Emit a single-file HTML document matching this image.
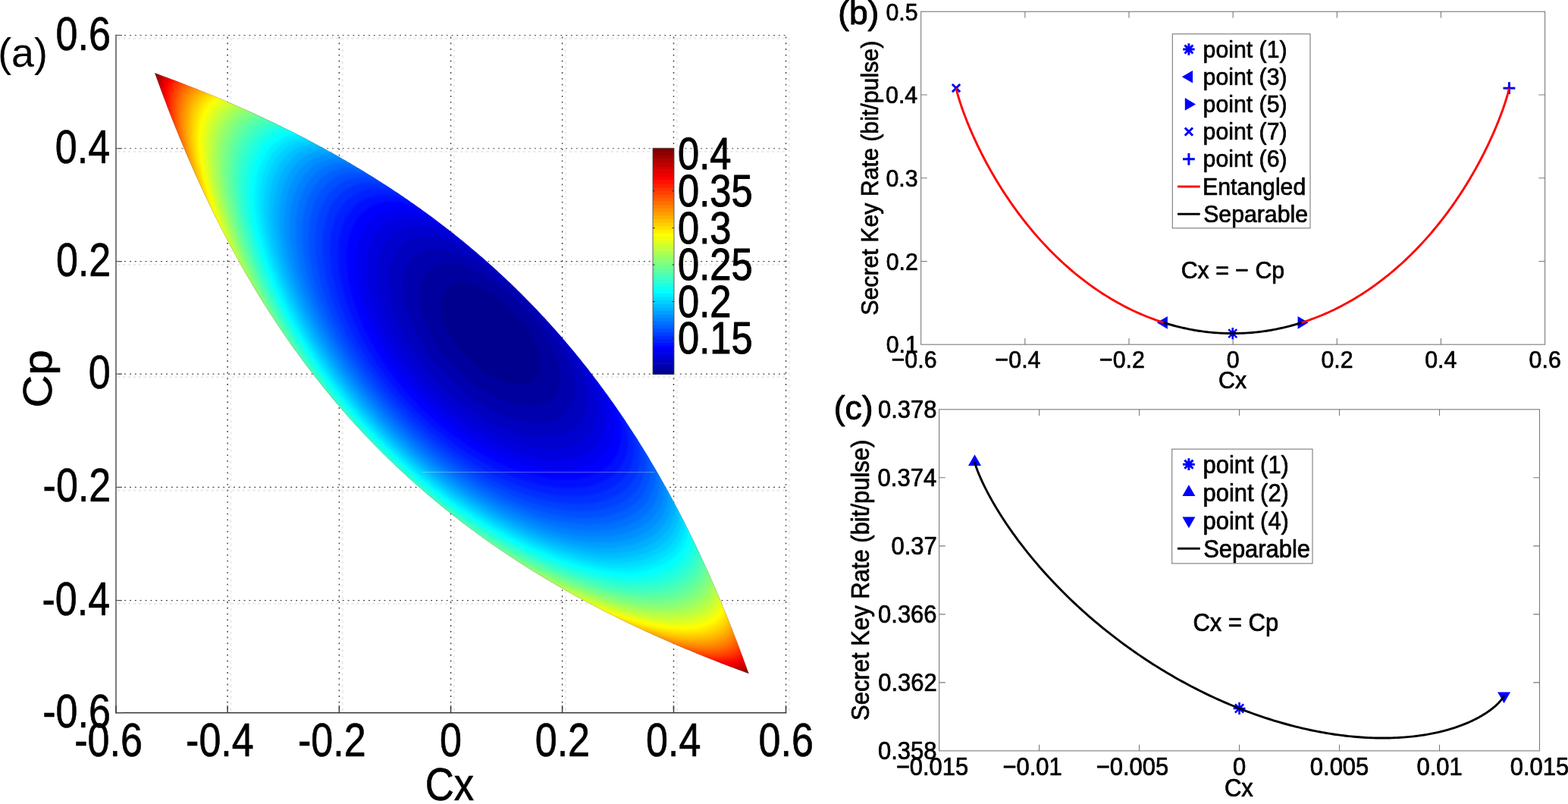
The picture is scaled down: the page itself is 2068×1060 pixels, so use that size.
<!DOCTYPE html>
<html lang="en"><head><meta charset="utf-8"><title>Secret key rate on the correlation plane</title>
<style>
html,body{margin:0;padding:0;background:#fff;}
body{width:2068px;height:1060px;overflow:hidden;}
svg{display:block;}
text{font-family:"Liberation Sans", Arial, Helvetica, sans-serif;font-kerning:none;white-space:pre;}
</style></head><body>
<svg width="2068" height="1060" viewBox="0 0 2068 1060">
<rect width="2068" height="1060" fill="#fff"/>
<line x1="304.42" y1="937.65" x2="304.42" y2="46.50" stroke="#ececec" stroke-width="2.20" stroke-dasharray="3.6 4.154" stroke-dashoffset="7.311999999999999"/>
<line x1="154.96" y1="795.80" x2="1036.54" y2="795.80" stroke="#ececec" stroke-width="2.20" stroke-dasharray="3.6 3.247" stroke-dashoffset="6.801000000000001"/>
<line x1="451.70" y1="937.65" x2="451.70" y2="46.50" stroke="#ececec" stroke-width="2.20" stroke-dasharray="3.6 4.154" stroke-dashoffset="7.311999999999999"/>
<line x1="154.96" y1="646.64" x2="1036.54" y2="646.64" stroke="#ececec" stroke-width="2.20" stroke-dasharray="3.6 3.247" stroke-dashoffset="6.801000000000001"/>
<line x1="598.84" y1="937.65" x2="598.84" y2="46.50" stroke="#ececec" stroke-width="2.20" stroke-dasharray="3.6 4.154" stroke-dashoffset="7.311999999999999"/>
<line x1="154.96" y1="497.26" x2="1036.54" y2="497.26" stroke="#ececec" stroke-width="2.20" stroke-dasharray="3.6 3.247" stroke-dashoffset="6.801000000000001"/>
<line x1="745.90" y1="937.65" x2="745.90" y2="46.50" stroke="#ececec" stroke-width="2.20" stroke-dasharray="3.6 4.154" stroke-dashoffset="7.311999999999999"/>
<line x1="154.96" y1="348.84" x2="1036.54" y2="348.84" stroke="#ececec" stroke-width="2.20" stroke-dasharray="3.6 3.247" stroke-dashoffset="6.801000000000001"/>
<line x1="892.77" y1="937.65" x2="892.77" y2="46.50" stroke="#ececec" stroke-width="2.20" stroke-dasharray="3.6 4.154" stroke-dashoffset="7.311999999999999"/>
<line x1="154.96" y1="199.93" x2="1036.54" y2="199.93" stroke="#ececec" stroke-width="2.20" stroke-dasharray="3.6 3.247" stroke-dashoffset="6.801000000000001"/>
<line x1="1040.84" y1="937.65" x2="1040.84" y2="46.50" stroke="#ececec" stroke-width="2.20" stroke-dasharray="3.6 4.154" stroke-dashoffset="7.311999999999999"/>
<line x1="154.96" y1="50.70" x2="1036.54" y2="50.70" stroke="#ececec" stroke-width="2.20" stroke-dasharray="3.6 3.247" stroke-dashoffset="6.801000000000001"/>
<line x1="300.12" y1="939.65" x2="300.12" y2="45.80" stroke="#4a4a4a" stroke-width="1.50" stroke-dasharray="1.9 5.854" stroke-dashoffset="2.558"/>
<line x1="152.96" y1="791.60" x2="1037.24" y2="791.60" stroke="#4a4a4a" stroke-width="1.20" stroke-dasharray="2.0 4.847" stroke-dashoffset="2.5540000000000003"/>
<line x1="447.40" y1="939.65" x2="447.40" y2="45.80" stroke="#4a4a4a" stroke-width="1.50" stroke-dasharray="1.9 5.854" stroke-dashoffset="2.558"/>
<line x1="152.96" y1="642.44" x2="1037.24" y2="642.44" stroke="#4a4a4a" stroke-width="1.20" stroke-dasharray="2.0 4.847" stroke-dashoffset="2.5540000000000003"/>
<line x1="594.54" y1="939.65" x2="594.54" y2="45.80" stroke="#4a4a4a" stroke-width="1.50" stroke-dasharray="1.9 5.854" stroke-dashoffset="2.558"/>
<line x1="152.96" y1="493.06" x2="1037.24" y2="493.06" stroke="#4a4a4a" stroke-width="1.20" stroke-dasharray="2.0 4.847" stroke-dashoffset="2.5540000000000003"/>
<line x1="741.60" y1="939.65" x2="741.60" y2="45.80" stroke="#4a4a4a" stroke-width="1.50" stroke-dasharray="1.9 5.854" stroke-dashoffset="2.558"/>
<line x1="152.96" y1="344.64" x2="1037.24" y2="344.64" stroke="#4a4a4a" stroke-width="1.20" stroke-dasharray="2.0 4.847" stroke-dashoffset="2.5540000000000003"/>
<line x1="888.47" y1="939.65" x2="888.47" y2="45.80" stroke="#4a4a4a" stroke-width="1.50" stroke-dasharray="1.9 5.854" stroke-dashoffset="2.558"/>
<line x1="152.96" y1="195.73" x2="1037.24" y2="195.73" stroke="#4a4a4a" stroke-width="1.20" stroke-dasharray="2.0 4.847" stroke-dashoffset="2.5540000000000003"/>
<line x1="1036.54" y1="939.65" x2="1036.54" y2="45.80" stroke="#4a4a4a" stroke-width="1.50" stroke-dasharray="1.9 5.854" stroke-dashoffset="2.558"/>
<line x1="152.96" y1="46.50" x2="1037.24" y2="46.50" stroke="#4a4a4a" stroke-width="1.20" stroke-dasharray="2.0 4.847" stroke-dashoffset="2.5540000000000003"/>
<clipPath id="lensclip"><path d="M204.2 96.3L206.2 97.1L208.2 97.8L210.1 98.5L212.1 99.2L214.1 99.9L216.0 100.7L218.0 101.4L219.9 102.1L221.9 102.9L223.9 103.6L225.8 104.4L227.8 105.1L229.8 105.8L231.7 106.6L233.7 107.3L235.6 108.1L237.6 108.9L239.6 109.6L241.5 110.4L243.5 111.1L245.5 111.9L247.4 112.7L249.4 113.4L251.4 114.2L253.3 115.0L255.3 115.8L257.2 116.5L259.2 117.3L261.2 118.1L263.1 118.9L265.1 119.7L267.1 120.5L269.0 121.3L271.0 122.1L272.9 122.9L274.9 123.7L276.9 124.5L278.8 125.3L280.8 126.1L282.8 126.9L284.7 127.8L286.7 128.6L288.6 129.4L290.6 130.2L292.6 131.1L294.5 131.9L296.5 132.7L298.5 133.6L300.4 134.4L302.4 135.3L304.3 136.1L306.3 137.0L308.3 137.8L310.2 138.7L312.2 139.5L314.2 140.4L316.1 141.3L318.1 142.1L320.0 143.0L322.0 143.9L324.0 144.8L325.9 145.6L327.9 146.5L329.9 147.4L331.8 148.3L333.8 149.2L335.7 150.1L337.7 151.0L339.7 151.9L341.6 152.8L343.6 153.7L345.6 154.6L347.5 155.5L349.5 156.5L351.4 157.4L353.4 158.3L355.4 159.2L357.3 160.2L359.3 161.1L361.3 162.0L363.2 163.0L365.2 163.9L367.1 164.9L369.1 165.8L371.1 166.8L373.0 167.8L375.0 168.7L377.0 169.7L378.9 170.7L380.9 171.6L382.8 172.6L384.8 173.6L386.8 174.6L388.7 175.6L390.7 176.6L392.7 177.6L394.6 178.6L396.6 179.6L398.6 180.6L400.5 181.6L402.5 182.6L404.4 183.6L406.4 184.7L408.4 185.7L410.3 186.7L412.3 187.8L414.3 188.8L416.2 189.9L418.2 190.9L420.1 192.0L422.1 193.0L424.1 194.1L426.0 195.1L428.0 196.2L430.0 197.3L431.9 198.4L433.9 199.5L435.8 200.5L437.8 201.6L439.8 202.7L441.7 203.8L443.7 204.9L445.7 206.0L447.6 207.1L449.6 208.3L451.5 209.4L453.5 210.5L455.5 211.6L457.4 212.8L459.4 213.9L461.4 215.1L463.3 216.2L465.3 217.4L467.2 218.5L469.2 219.7L471.2 220.9L473.1 222.0L475.1 223.2L477.1 224.4L479.0 225.6L481.0 226.8L482.9 228.0L484.9 229.2L486.9 230.4L488.8 231.6L490.8 232.8L492.8 234.0L494.7 235.3L496.7 236.5L498.6 237.7L500.6 239.0L502.6 240.2L504.5 241.5L506.5 242.7L508.5 244.0L510.4 245.3L512.4 246.5L514.3 247.8L516.3 249.1L518.3 250.4L520.2 251.7L522.2 253.0L524.2 254.3L526.1 255.6L528.1 256.9L530.1 258.3L532.0 259.6L534.0 260.9L535.9 262.3L537.9 263.6L539.9 265.0L541.8 266.4L543.8 267.7L545.8 269.1L547.7 270.5L549.7 271.9L551.6 273.3L553.6 274.6L555.6 276.1L557.5 277.5L559.5 278.9L561.5 280.3L563.4 281.7L565.4 283.2L567.3 284.6L569.3 286.1L571.3 287.5L573.2 289.0L575.2 290.5L577.2 291.9L579.1 293.4L581.1 294.9L583.0 296.4L585.0 297.9L587.0 299.4L588.9 300.9L590.9 302.5L592.9 304.0L594.8 305.5L596.8 307.1L598.7 308.6L600.7 310.2L602.7 311.8L604.6 313.3L606.6 314.9L608.6 316.5L610.5 318.1L612.5 319.7L614.4 321.3L616.4 322.9L618.4 324.6L620.3 326.2L622.3 327.9L624.3 329.5L626.2 331.2L628.2 332.8L630.1 334.5L632.1 336.2L634.1 337.9L636.0 339.6L638.0 341.3L640.0 343.0L641.9 344.8L643.9 346.5L645.8 348.3L647.8 350.0L649.8 351.8L651.7 353.5L653.7 355.3L655.7 357.1L657.6 358.9L659.6 360.7L661.5 362.5L663.5 364.4L665.5 366.2L667.4 368.1L669.4 369.9L671.4 371.8L673.3 373.6L675.3 375.5L677.3 377.4L679.2 379.3L681.2 381.2L683.1 383.2L685.1 385.1L687.1 387.1L689.0 389.0L691.0 391.0L693.0 392.9L694.9 394.9L696.9 396.9L698.8 398.9L700.8 401.0L702.8 403.0L704.7 405.0L706.7 407.1L708.7 409.1L710.6 411.2L712.6 413.3L714.5 415.4L716.5 417.5L718.5 419.6L720.4 421.8L722.4 423.9L724.4 426.1L726.3 428.2L728.3 430.4L730.2 432.6L732.2 434.8L734.2 437.0L736.1 439.3L738.1 441.5L740.1 443.7L742.0 446.0L744.0 448.3L745.9 450.6L747.9 452.9L749.9 455.2L751.8 457.6L753.8 459.9L755.8 462.3L757.7 464.6L759.7 467.0L761.6 469.4L763.6 471.8L765.6 474.3L767.5 476.7L769.5 479.2L771.5 481.7L773.4 484.1L775.4 486.6L777.3 489.2L779.3 491.7L781.3 494.3L783.2 496.8L785.2 499.4L787.2 502.0L789.1 504.6L791.1 507.2L793.0 509.9L795.0 512.5L797.0 515.2L798.9 517.9L800.9 520.6L802.9 523.4L804.8 526.1L806.8 528.9L808.8 531.6L810.7 534.4L812.7 537.3L814.6 540.1L816.6 542.9L818.6 545.8L820.5 548.7L822.5 551.6L824.5 554.5L826.4 557.5L828.4 560.4L830.3 563.4L832.3 566.4L834.3 569.5L836.2 572.5L838.2 575.6L840.2 578.6L842.1 581.8L844.1 584.9L846.0 588.0L848.0 591.2L850.0 594.4L851.9 597.6L853.9 600.8L855.9 604.1L857.8 607.4L859.8 610.7L861.7 614.0L863.7 617.3L865.7 620.7L867.6 624.1L869.6 627.5L871.6 630.9L873.5 634.4L875.5 637.9L877.4 641.4L879.4 644.9L881.4 648.5L883.3 652.1L885.3 655.7L887.3 659.4L889.2 663.0L891.2 666.7L893.1 670.4L895.1 674.2L897.1 678.0L899.0 681.8L901.0 685.6L903.0 689.5L904.9 693.4L906.9 697.3L908.8 701.2L910.8 705.2L912.8 709.2L914.7 713.3L916.7 717.3L918.7 721.4L920.6 725.6L922.6 729.7L924.5 733.9L926.5 738.2L928.5 742.4L930.4 746.7L932.4 751.0L934.4 755.4L936.3 759.8L938.3 764.2L940.2 768.7L942.2 773.2L944.2 777.8L946.1 782.3L948.1 787.0L950.1 791.6L952.0 796.3L954.0 801.0L956.0 805.8L957.9 810.6L959.9 815.5L961.8 820.4L963.8 825.3L965.8 830.3L967.7 835.3L969.7 840.4L971.7 845.5L973.6 850.6L975.6 855.8L977.5 861.0L979.5 866.3L981.5 871.7L983.4 877.0L985.4 882.5L987.4 887.9L987.4 887.9L985.4 887.2L983.4 886.5L981.5 885.8L979.5 885.0L977.5 884.3L975.6 883.6L973.6 882.9L971.7 882.1L969.7 881.4L967.7 880.6L965.8 879.9L963.8 879.2L961.8 878.4L959.9 877.7L957.9 876.9L956.0 876.2L954.0 875.4L952.0 874.7L950.1 873.9L948.1 873.1L946.1 872.4L944.2 871.6L942.2 870.8L940.2 870.0L938.3 869.3L936.3 868.5L934.4 867.7L932.4 866.9L930.4 866.1L928.5 865.4L926.5 864.6L924.5 863.8L922.6 863.0L920.6 862.2L918.7 861.4L916.7 860.6L914.7 859.8L912.8 858.9L910.8 858.1L908.8 857.3L906.9 856.5L904.9 855.7L903.0 854.9L901.0 854.0L899.0 853.2L897.1 852.4L895.1 851.5L893.1 850.7L891.2 849.8L889.2 849.0L887.3 848.2L885.3 847.3L883.3 846.4L881.4 845.6L879.4 844.7L877.4 843.9L875.5 843.0L873.5 842.1L871.6 841.3L869.6 840.4L867.6 839.5L865.7 838.6L863.7 837.7L861.7 836.9L859.8 836.0L857.8 835.1L855.9 834.2L853.9 833.3L851.9 832.4L850.0 831.5L848.0 830.6L846.0 829.6L844.1 828.7L842.1 827.8L840.2 826.9L838.2 826.0L836.2 825.0L834.3 824.1L832.3 823.2L830.3 822.2L828.4 821.3L826.4 820.3L824.5 819.4L822.5 818.4L820.5 817.5L818.6 816.5L816.6 815.5L814.6 814.6L812.7 813.6L810.7 812.6L808.8 811.6L806.8 810.6L804.8 809.7L802.9 808.7L800.9 807.7L798.9 806.7L797.0 805.7L795.0 804.7L793.0 803.7L791.1 802.6L789.1 801.6L787.2 800.6L785.2 799.6L783.2 798.6L781.3 797.5L779.3 796.5L777.3 795.4L775.4 794.4L773.4 793.4L771.5 792.3L769.5 791.2L767.5 790.2L765.6 789.1L763.6 788.0L761.6 787.0L759.7 785.9L757.7 784.8L755.8 783.7L753.8 782.6L751.8 781.5L749.9 780.4L747.9 779.3L745.9 778.2L744.0 777.1L742.0 776.0L740.1 774.9L738.1 773.7L736.1 772.6L734.2 771.5L732.2 770.3L730.2 769.2L728.3 768.0L726.3 766.9L724.4 765.7L722.4 764.6L720.4 763.4L718.5 762.2L716.5 761.1L714.5 759.9L712.6 758.7L710.6 757.5L708.7 756.3L706.7 755.1L704.7 753.9L702.8 752.7L700.8 751.5L698.8 750.2L696.9 749.0L694.9 747.8L693.0 746.5L691.0 745.3L689.0 744.0L687.1 742.8L685.1 741.5L683.1 740.3L681.2 739.0L679.2 737.7L677.3 736.4L675.3 735.1L673.3 733.9L671.4 732.6L669.4 731.3L667.4 729.9L665.5 728.6L663.5 727.3L661.5 726.0L659.6 724.7L657.6 723.3L655.7 722.0L653.7 720.6L651.7 719.3L649.8 717.9L647.8 716.5L645.8 715.2L643.9 713.8L641.9 712.4L640.0 711.0L638.0 709.6L636.0 708.2L634.1 706.8L632.1 705.4L630.1 704.0L628.2 702.5L626.2 701.1L624.3 699.6L622.3 698.2L620.3 696.7L618.4 695.3L616.4 693.8L614.4 692.3L612.5 690.8L610.5 689.4L608.6 687.9L606.6 686.4L604.6 684.8L602.7 683.3L600.7 681.8L598.7 680.3L596.8 678.7L594.8 677.2L592.9 675.6L590.9 674.1L588.9 672.5L587.0 670.9L585.0 669.3L583.0 667.8L581.1 666.2L579.1 664.5L577.2 662.9L575.2 661.3L573.2 659.7L571.3 658.0L569.3 656.4L567.3 654.7L565.4 653.1L563.4 651.4L561.5 649.7L559.5 648.0L557.5 646.4L555.6 644.6L553.6 642.9L551.6 641.2L549.7 639.5L547.7 637.8L545.8 636.0L543.8 634.3L541.8 632.5L539.9 630.7L537.9 628.9L535.9 627.1L534.0 625.3L532.0 623.5L530.1 621.7L528.1 619.9L526.1 618.1L524.2 616.2L522.2 614.4L520.2 612.5L518.3 610.6L516.3 608.7L514.3 606.8L512.4 604.9L510.4 603.0L508.5 601.1L506.5 599.2L504.5 597.2L502.6 595.3L500.6 593.3L498.6 591.3L496.7 589.3L494.7 587.3L492.8 585.3L490.8 583.3L488.8 581.3L486.9 579.2L484.9 577.2L482.9 575.1L481.0 573.0L479.0 571.0L477.1 568.9L475.1 566.8L473.1 564.6L471.2 562.5L469.2 560.4L467.2 558.2L465.3 556.0L463.3 553.9L461.4 551.7L459.4 549.5L457.4 547.2L455.5 545.0L453.5 542.8L451.5 540.5L449.6 538.2L447.6 536.0L445.7 533.7L443.7 531.4L441.7 529.0L439.8 526.7L437.8 524.4L435.8 522.0L433.9 519.6L431.9 517.2L430.0 514.8L428.0 512.4L426.0 510.0L424.1 507.5L422.1 505.1L420.1 502.6L418.2 500.1L416.2 497.6L414.3 495.1L412.3 492.6L410.3 490.0L408.4 487.4L406.4 484.9L404.4 482.3L402.5 479.7L400.5 477.0L398.6 474.4L396.6 471.7L394.6 469.0L392.7 466.3L390.7 463.6L388.7 460.9L386.8 458.2L384.8 455.4L382.8 452.6L380.9 449.8L378.9 447.0L377.0 444.2L375.0 441.3L373.0 438.4L371.1 435.6L369.1 432.6L367.1 429.7L365.2 426.8L363.2 423.8L361.3 420.8L359.3 417.8L357.3 414.8L355.4 411.8L353.4 408.7L351.4 405.6L349.5 402.5L347.5 399.4L345.6 396.2L343.6 393.1L341.6 389.9L339.7 386.7L337.7 383.4L335.7 380.2L333.8 376.9L331.8 373.6L329.9 370.3L327.9 366.9L325.9 363.6L324.0 360.2L322.0 356.8L320.0 353.3L318.1 349.9L316.1 346.4L314.2 342.9L312.2 339.3L310.2 335.8L308.3 332.2L306.3 328.5L304.3 324.9L302.4 321.2L300.4 317.5L298.5 313.8L296.5 310.1L294.5 306.3L292.6 302.5L290.6 298.7L288.6 294.8L286.7 290.9L284.7 287.0L282.8 283.0L280.8 279.1L278.8 275.0L276.9 271.0L274.9 266.9L272.9 262.8L271.0 258.7L269.0 254.5L267.1 250.3L265.1 246.1L263.1 241.8L261.2 237.5L259.2 233.2L257.2 228.8L255.3 224.4L253.3 220.0L251.4 215.5L249.4 211.0L247.4 206.5L245.5 201.9L243.5 197.3L241.5 192.6L239.6 187.9L237.6 183.2L235.6 178.4L233.7 173.6L231.7 168.8L229.8 163.9L227.8 159.0L225.8 154.0L223.9 149.0L221.9 143.9L219.9 138.8L218.0 133.6L216.0 128.5L214.1 123.2L212.1 117.9L210.1 112.6L208.2 107.2L206.2 101.8L204.2 96.3Z"/></clipPath>
<filter id="lensblur" filterUnits="userSpaceOnUse" x="180" y="72" width="831" height="840" color-interpolation-filters="sRGB"><feGaussianBlur stdDeviation="1.6"/></filter>
<g clip-path="url(#lensclip)">
<g filter="url(#lensblur)">
<rect x="180" y="72" width="831" height="840" fill="#800000"/>
<path d="M986.5 892.3L984.7 887.3L985.2 886.9L987.2 886.4L992.2 888.2L992.3 92.3L204.3 92.3L205.7 96.3L205.2 98.9L200.2 97.4L200.2 892.3L986.5 892.3Z" fill="#8f0000" fill-rule="evenodd"/>
<path d="M983.3 892.3L981.2 886.2L986.2 884.2L992.2 886.4L992.3 92.3L206.1 92.3L207.9 97.3L206.2 102.8L200.2 100.6L200.2 892.3L983.3 892.3Z" fill="#9f0000" fill-rule="evenodd"/>
<path d="M979.7 892.3L976.8 884.3L982.2 883.4L985.2 881.9L992.2 884.4L992.3 92.3L208.0 92.3L210.2 98.3L208.8 101.3L207.8 106.3L207.2 106.8L200.2 104.2L200.2 892.3L979.7 892.3Z" fill="#af0000" fill-rule="evenodd"/>
<path d="M975.8 892.3L972.5 883.3L973.2 882.5L980.2 881.5L983.0 880.3L984.2 879.3L992.2 882.3L992.3 92.3L210.2 92.3L212.7 99.3L210.7 103.3L209.4 111.3L200.2 108.1L200.2 892.3L975.8 892.3ZM972.2 882.6L972.7 882.3L972.2 882.6Z" fill="#bf0000" fill-rule="evenodd"/>
<path d="M971.6 892.3L967.5 881.3L968.2 880.8L977.2 879.8L981.2 878.3L983.2 876.8L992.2 880.0L992.3 92.3L212.4 92.3L215.3 100.3L213.9 102.3L212.4 106.3L211.2 116.6L200.2 112.4L200.2 892.3L971.6 892.3Z" fill="#cf0000" fill-rule="evenodd"/>
<path d="M967.1 892.3L962.2 879.3L963.2 878.8L970.2 878.5L975.2 877.6L979.2 876.2L982.2 874.1L992.2 877.6L992.3 92.3L214.8 92.3L218.0 101.3L215.9 104.3L214.2 109.3L213.5 114.3L213.2 121.9L200.2 116.9L200.2 892.3L967.1 892.3Z" fill="#df0000" fill-rule="evenodd"/>
<path d="M962.4 892.3L956.6 877.3L957.2 876.7L966.2 876.6L972.2 875.7L978.2 873.5L981.2 871.1L992.2 875.1L992.3 92.3L217.3 92.3L220.9 102.3L218.1 106.3L216.2 112.2L215.4 118.3L215.6 126.3L215.2 127.6L200.2 121.7L200.2 892.3L962.4 892.3Z" fill="#ef0000" fill-rule="evenodd"/>
<path d="M957.3 892.3L950.4 874.3L961.2 874.6L969.2 873.6L976.2 871.2L980.2 868.0L992.2 872.5L992.3 92.3L219.8 92.3L223.9 103.3L220.5 108.3L218.5 114.3L217.5 122.3L217.7 131.3L217.4 133.3L200.2 126.8L200.2 892.3L957.3 892.3Z" fill="#ff0000" fill-rule="evenodd"/>
<path d="M952.1 892.3L944.2 872.3L946.2 871.8L958.2 872.3L966.4 871.3L974.2 868.7L979.2 864.9L992.2 869.9L992.3 92.3L222.5 92.3L227.0 104.3L222.9 110.3L220.5 118.3L219.6 128.3L220.2 140.0L200.2 132.2L200.2 892.3L952.1 892.3Z" fill="#ff1000" fill-rule="evenodd"/>
<path d="M946.5 892.3L937.4 869.3L952.2 870.1L963.2 869.1L968.2 867.8L972.2 866.2L975.2 864.3L978.2 861.7L992.2 867.1L992.3 92.3L225.2 92.3L230.1 105.3L229.9 106.3L227.8 108.3L225.4 112.3L222.8 121.3L221.9 131.3L222.5 146.3L222.2 146.7L200.2 137.8L200.2 892.3L946.5 892.3Z" fill="#ff2000" fill-rule="evenodd"/>
<path d="M940.7 892.3L930.4 866.3L946.2 867.8L959.2 866.9L964.2 865.8L969.2 864.0L973.7 861.3L976.2 858.6L977.2 858.4L992.2 864.2L992.3 92.3L228.0 92.3L233.6 107.3L231.2 109.3L228.6 113.3L226.6 118.3L225.2 124.3L224.2 136.3L224.5 144.3L225.6 152.3L225.2 153.9L200.2 143.6L200.2 892.3L940.7 892.3Z" fill="#ff3000" fill-rule="evenodd"/>
<path d="M934.7 892.3L923.3 864.3L924.2 863.5L941.2 865.3L949.2 865.2L956.5 864.3L963.2 862.7L968.2 860.7L972.2 858.2L975.2 854.8L992.2 861.3L992.3 92.3L230.9 92.3L237.1 108.3L233.9 111.3L231.2 115.5L229.2 120.5L227.6 127.3L226.8 134.3L226.6 142.3L227.2 151.3L228.5 160.3L228.2 161.4L200.2 149.7L200.2 892.3L934.7 892.3ZM923.2 864.2L922.9 863.3L923.9 863.3L923.2 864.2Z" fill="#ff4000" fill-rule="evenodd"/>
<path d="M928.4 892.3L915.2 860.3L916.2 860.1L926.2 861.9L936.2 862.7L944.2 862.7L952.2 862.0L959.2 860.5L965.2 858.3L970.2 855.3L974.2 851.2L992.2 858.3L992.3 92.3L233.9 92.3L240.5 109.3L240.1 110.3L236.2 114.0L233.7 118.3L231.5 124.3L230.0 131.3L229.2 139.3L229.2 147.3L229.9 157.3L231.5 167.3L231.2 169.2L200.2 156.1L200.2 892.3L928.4 892.3Z" fill="#ff5000" fill-rule="evenodd"/>
<path d="M921.8 892.3L907.2 857.2L909.2 857.0L920.2 859.0L931.2 860.0L940.2 860.1L949.2 859.3L957.2 857.6L964.2 854.8L969.2 851.5L972.2 847.6L973.2 847.6L992.2 855.2L992.3 92.3L237.0 92.3L244.4 111.3L240.6 114.3L237.2 119.3L234.4 126.3L232.6 134.3L231.8 142.3L231.8 151.3L232.7 163.3L234.7 175.3L234.2 177.3L200.2 162.7L200.2 892.3L921.8 892.3ZM235.2 177.5L234.5 177.3L235.2 177.5Z" fill="#ff6000" fill-rule="evenodd"/>
<path d="M915.0 892.3L898.4 853.3L899.2 853.1L914.2 856.1L924.2 857.1L935.2 857.5L945.2 856.7L954.2 854.9L961.2 852.3L967.2 848.4L971.2 843.6L992.2 852.0L992.3 92.3L240.2 92.3L248.0 112.3L243.2 116.8L239.7 122.3L237.1 129.3L235.2 138.3L234.4 148.3L234.6 159.3L236.1 172.3L238.4 184.3L238.2 186.2L200.2 169.6L200.2 892.3L915.0 892.3Z" fill="#ff7000" fill-rule="evenodd"/>
<path d="M907.9 892.3L889.3 849.3L905.2 852.5L918.2 854.2L930.2 854.7L941.2 854.0L950.4 852.3L958.7 849.3L965.0 845.3L967.9 842.3L969.2 839.9L970.2 839.9L992.2 848.7L992.3 92.3L243.4 92.3L252.0 114.3L249.2 116.1L246.9 118.3L242.9 124.3L239.6 133.3L237.7 143.3L237.1 154.3L237.6 166.3L239.2 179.2L242.5 194.3L242.2 195.4L200.2 176.8L200.2 892.3L907.9 892.3Z" fill="#ff8000" fill-rule="evenodd"/>
<path d="M900.6 892.3L879.8 845.3L881.2 845.3L899.1 849.3L912.2 851.1L925.2 851.9L937.2 851.3L948.2 849.2L957.2 845.8L963.7 841.3L968.2 835.6L992.2 845.4L992.3 92.3L246.7 92.3L255.8 115.3L255.4 116.3L253.2 117.5L250.2 120.3L245.7 127.3L242.4 136.3L240.5 147.3L239.9 159.3L240.6 172.3L242.4 185.3L246.3 203.3L246.2 205.0L200.2 184.2L200.2 892.3L900.6 892.3Z" fill="#ff8f00" fill-rule="evenodd"/>
<path d="M893.0 892.3L870.2 841.2L872.2 841.2L890.2 845.5L905.2 847.9L920.2 848.9L933.2 848.4L945.2 846.2L955.2 842.4L959.2 839.9L962.3 837.3L964.8 834.3L966.2 831.3L992.2 842.0L992.3 92.3L250.1 92.3L260.1 117.3L256.2 119.9L253.7 122.3L249.1 129.3L245.4 139.3L243.3 151.3L242.8 164.3L243.8 178.3L246.4 195.3L250.6 213.3L250.2 214.9L200.2 191.9L200.2 892.3L893.0 892.3Z" fill="#ff9f00" fill-rule="evenodd"/>
<path d="M885.0 892.3L859.3 836.3L861.2 836.3L881.2 841.5L897.2 844.4L913.2 845.8L928.2 845.6L941.2 843.4L951.2 839.9L955.7 837.3L959.2 834.6L962.2 831.5L964.2 828.0L965.2 827.3L992.2 838.5L992.3 92.3L253.5 92.3L264.5 119.3L261.2 120.9L258.2 123.4L254.9 127.3L252.2 131.9L248.4 142.3L246.2 155.3L245.9 170.3L247.2 186.3L250.1 203.3L255.5 224.3L255.2 225.7L200.2 199.9L200.2 892.3L885.0 892.3Z" fill="#ffaf00" fill-rule="evenodd"/>
<path d="M876.8 892.3L862.2 860.4L848.3 831.3L850.2 831.3L873.2 837.6L891.2 841.0L908.2 842.7L924.2 842.5L938.0 840.3L944.2 838.4L949.2 836.2L954.2 833.3L957.8 830.3L960.5 827.3L963.2 822.8L992.2 834.9L992.3 92.3L257.1 92.3L268.5 120.3L268.2 121.3L264.4 123.3L261.1 126.3L258.0 130.3L255.1 135.3L253.1 140.3L251.2 146.6L249.2 160.3L249.0 176.3L250.8 194.3L254.2 212.3L260.4 235.3L260.2 236.9L230.5 222.3L200.2 208.2L200.2 892.3L876.8 892.3Z" fill="#ffbf00" fill-rule="evenodd"/>
<path d="M868.3 892.3L853.0 859.3L836.8 826.3L837.2 825.8L863.2 833.1L883.2 837.2L902.2 839.4L919.2 839.4L927.2 838.6L934.2 837.3L940.8 835.3L946.2 833.0L951.2 830.1L955.9 826.3L959.2 822.3L961.2 818.2L992.2 831.3L992.3 92.3L260.7 92.3L273.0 122.3L272.2 123.2L268.2 125.4L265.0 128.3L261.2 133.1L258.3 138.3L256.0 144.3L254.3 150.3L253.0 157.3L252.2 165.3L252.3 182.3L254.4 201.3L258.2 220.7L261.2 232.4L265.5 246.3L265.6 248.3L265.2 248.5L232.9 232.3L200.2 216.8L200.2 892.3L868.3 892.3Z" fill="#ffcf00" fill-rule="evenodd"/>
<path d="M859.5 892.3L842.2 855.8L824.4 820.3L826.2 820.0L846.2 826.4L868.2 831.9L885.2 834.8L901.2 836.3L912.2 836.4L922.2 835.6L931.2 833.9L939.2 831.4L946.2 828.1L952.2 823.8L956.4 819.3L959.2 813.7L992.2 827.5L992.3 92.3L264.4 92.3L277.6 124.3L271.2 128.3L267.2 132.3L263.2 138.2L260.2 144.7L257.8 152.3L256.1 161.3L255.3 171.3L255.3 182.3L256.6 198.3L259.6 216.3L265.2 239.3L271.5 259.3L271.2 261.1L236.6 243.3L200.2 225.7L200.2 892.3L859.5 892.3ZM824.2 820.0L823.9 819.3L824.4 819.3L824.2 820.0Z" fill="#ffdf00" fill-rule="evenodd"/>
<path d="M850.4 892.3L831.2 852.6L811.1 813.3L812.2 813.2L826.2 818.2L839.2 822.3L858.2 827.3L877.2 830.9L895.2 832.8L907.2 833.1L917.9 832.3L927.2 830.7L936.2 828.0L943.8 824.3L950.2 819.6L954.8 814.3L957.2 809.0L992.2 823.7L992.3 92.3L268.1 92.3L282.4 126.3L276.2 129.8L271.4 134.3L267.2 140.3L263.4 148.3L261.0 156.3L259.3 166.3L258.5 177.3L258.7 188.3L260.5 206.3L264.2 226.8L269.2 246.4L277.8 273.3L277.2 274.1L239.6 254.3L200.2 235.0L200.2 892.3L850.4 892.3ZM278.2 274.7L277.7 274.3L278.2 274.0L278.2 274.7Z" fill="#ffef00" fill-rule="evenodd"/>
<path d="M842.0 892.3L821.0 849.3L798.9 807.3L800.2 807.1L826.6 816.3L850.2 822.9L871.2 827.2L890.2 829.4L903.2 829.7L914.2 828.9L924.2 827.2L933.2 824.4L941.2 820.5L948.1 815.3L953.1 809.3L955.2 804.1L992.2 819.9L992.3 92.3L272.0 92.3L287.2 128.3L281.2 131.5L275.7 136.3L270.7 143.3L267.0 151.3L264.3 160.3L262.6 170.3L261.9 181.3L262.2 194.3L264.3 213.3L268.6 235.3L274.3 256.3L284.2 285.8L284.2 287.0L242.2 264.4L200.2 243.4L200.2 892.3L842.0 892.3Z" fill="#ffff00" fill-rule="evenodd"/>
<path d="M834.2 892.3L812.2 848.2L787.2 801.3L789.1 801.3L821.2 812.5L842.2 818.5L865.2 823.3L885.2 825.8L898.2 826.2L910.2 825.5L921.2 823.5L930.2 820.7L939.0 816.3L945.6 811.3L950.6 805.3L953.2 799.0L992.2 815.9L992.3 92.3L275.9 92.3L292.1 130.3L284.8 134.3L279.3 139.3L274.4 146.3L270.6 154.3L267.9 163.3L266.0 174.3L265.3 186.3L265.7 199.3L268.2 220.3L273.0 243.3L279.2 265.4L289.9 297.3L289.2 298.3L245.5 274.3L200.2 251.3L200.2 892.3L834.2 892.3ZM290.2 298.9L289.3 298.3L290.2 297.8L290.2 298.9Z" fill="#efff10" fill-rule="evenodd"/>
<path d="M826.2 892.3L801.2 843.1L774.5 794.3L775.2 794.2L776.2 794.9L788.6 799.3L812.2 807.3L834.2 813.9L858.2 819.2L879.2 822.0L893.2 822.6L906.2 821.9L917.2 820.0L927.2 816.9L936.2 812.4L943.2 806.9L948.2 800.8L951.2 793.9L992.2 811.9L992.3 92.3L279.9 92.3L297.1 132.3L296.2 133.3L293.2 134.3L289.7 136.3L284.0 141.3L278.8 148.3L274.4 157.3L271.4 167.3L269.6 178.3L268.9 190.3L269.3 204.3L272.1 226.3L277.1 249.3L284.2 274.2L291.2 295.4L296.4 309.3L296.2 311.1L249.2 284.8L200.2 259.5L200.2 892.3L826.2 892.3Z" fill="#dfff20" fill-rule="evenodd"/>
<path d="M817.9 892.3L790.2 838.5L761.5 787.3L762.2 787.2L763.2 787.9L791.2 798.1L827.0 809.3L852.2 815.2L874.2 818.3L888.2 818.9L901.2 818.3L913.2 816.4L923.3 813.3L932.2 809.0L940.2 803.0L945.8 796.3L949.2 788.7L992.2 807.8L992.3 92.3L283.9 92.3L302.4 135.3L298.7 136.3L295.2 138.1L288.9 143.3L282.7 151.3L278.3 160.3L275.2 170.3L273.2 182.3L272.5 195.3L273.1 210.3L276.2 233.1L281.7 257.3L293.3 295.3L303.3 322.3L303.2 324.3L252.7 295.3L200.2 267.8L200.2 892.3L817.9 892.3Z" fill="#cfff30" fill-rule="evenodd"/>
<path d="M809.5 892.3L781.2 838.1L748.2 780.1L750.2 780.3L767.2 787.3L783.2 793.2L818.5 804.3L844.2 810.6L856.2 812.8L868.2 814.3L883.2 815.1L897.2 814.6L909.2 812.7L920.2 809.3L929.2 804.9L937.2 798.9L943.2 791.7L945.2 787.9L946.4 784.3L947.2 783.4L992.2 803.6L992.3 92.3L288.1 92.3L307.8 137.3L300.2 140.4L296.2 143.3L292.9 146.3L286.8 154.3L282.2 163.6L278.9 174.3L276.8 187.3L276.3 201.3L277.0 216.3L278.5 228.3L280.6 240.3L287.0 267.3L298.2 303.4L304.2 320.1L311.3 337.3L311.2 338.5L284.3 322.3L256.5 306.3L229.1 291.3L200.2 276.3L200.2 892.3L809.5 892.3Z" fill="#bfff40" fill-rule="evenodd"/>
<path d="M800.9 892.3L772.3 838.3L753.2 804.8L733.7 772.3L734.2 771.7L754.8 780.3L770.5 786.3L809.2 798.9L837.2 806.2L850.2 808.6L862.2 810.2L878.2 811.2L892.2 810.8L905.2 808.8L916.7 805.3L926.7 800.3L931.2 797.2L935.2 793.6L938.2 790.3L941.2 785.9L943.2 781.6L944.2 777.8L992.2 799.4L992.3 92.3L292.3 92.3L313.1 139.3L312.2 140.1L308.3 141.3L304.5 143.3L297.2 149.3L291.1 157.3L286.1 167.3L282.5 179.3L280.6 192.3L280.1 206.3L281.1 222.3L282.8 235.3L285.2 248.3L292.2 276.3L304.2 314.1L311.2 332.8L319.2 351.8L319.2 353.1L290.4 335.3L261.5 318.3L231.0 301.3L200.2 285.0L200.2 892.3L800.9 892.3ZM733.2 771.6L733.6 771.3L733.2 771.6Z" fill="#afff50" fill-rule="evenodd"/>
<path d="M792.1 892.3L777.2 864.1L762.2 836.8L740.5 799.3L718.3 763.3L719.2 762.8L752.9 777.3L768.9 783.3L786.2 789.1L809.2 796.2L824.9 800.3L841.2 803.8L856.2 806.0L873.2 807.2L888.2 806.8L901.2 804.8L913.2 801.2L923.2 796.2L928.2 792.7L932.2 789.2L935.7 785.3L938.4 781.3L942.2 772.1L992.2 795.0L992.3 92.3L296.6 92.3L318.8 142.3L314.2 143.6L310.5 145.3L306.2 148.2L302.2 151.8L295.5 160.3L290.0 171.3L286.5 183.3L284.5 197.3L284.1 212.3L285.3 229.3L287.5 244.3L291.1 261.3L295.2 277.2L302.2 300.3L312.2 329.6L320.2 349.5L328.3 367.3L328.2 368.8L297.6 349.3L266.0 330.3L234.2 312.3L200.2 293.9L200.2 892.3L792.1 892.3ZM718.2 763.3L717.6 762.3L718.7 762.3L718.2 763.3Z" fill="#9fff60" fill-rule="evenodd"/>
<path d="M783.1 892.3L763.2 855.4L743.2 820.2L722.2 785.5L701.0 752.3L702.2 752.1L720.9 761.3L741.5 770.3L773.5 782.3L802.2 791.3L816.2 795.1L833.2 799.0L848.2 801.5L866.2 803.1L882.2 802.8L896.2 800.9L909.2 797.1L915.2 794.4L920.7 791.3L926.1 787.3L930.2 783.5L933.7 779.3L936.2 775.3L938.2 770.6L939.2 766.1L992.2 790.6L992.3 92.3L300.9 92.3L324.5 144.3L323.2 145.2L319.2 146.3L314.2 148.8L310.2 151.7L306.3 155.3L299.4 164.3L294.1 175.3L290.3 188.3L288.4 202.3L288.2 218.3L289.7 236.3L292.3 252.3L296.1 269.3L308.3 311.3L314.2 328.4L321.2 346.5L330.2 367.4L338.5 384.3L338.4 385.3L338.2 385.7L304.1 363.3L268.3 341.3L235.2 322.2L200.2 303.0L200.2 892.3L783.1 892.3Z" fill="#8fff70" fill-rule="evenodd"/>
<path d="M773.8 892.3L752.0 852.3L729.3 813.3L706.2 776.2L682.5 740.3L683.2 740.2L702.5 750.3L723.8 760.3L742.7 768.3L761.2 775.4L780.2 781.7L808.2 789.9L825.2 794.0L841.2 796.9L859.2 798.7L876.2 798.7L891.2 796.9L904.2 793.3L910.2 790.7L916.2 787.5L921.2 784.0L926.2 779.6L930.2 775.0L933.2 770.4L935.2 766.0L936.4 761.3L937.2 760.4L992.2 786.1L992.3 92.3L305.4 92.3L330.5 147.3L325.2 148.9L321.2 150.6L316.9 153.3L312.2 157.3L308.2 161.7L304.2 167.3L300.8 173.3L298.3 179.3L296.0 186.3L294.3 193.3L292.5 208.3L292.5 225.3L294.2 243.5L297.2 260.3L301.2 277.3L309.2 305.3L315.2 323.8L322.2 342.8L330.2 362.3L339.2 382.0L349.5 402.3L349.7 403.3L349.2 403.8L311.5 378.3L272.2 353.6L236.2 332.4L200.2 312.4L200.2 892.3L773.8 892.3ZM350.2 404.5L350.2 404.1L350.2 404.5Z" fill="#80ff80" fill-rule="evenodd"/>
<path d="M764.4 892.3L740.2 848.8L715.6 807.3L690.0 767.3L663.3 728.3L665.2 728.2L687.2 740.3L711.6 752.3L729.6 760.3L749.7 768.3L772.6 776.3L799.2 784.3L816.2 788.6L833.2 792.0L852.2 794.2L870.2 794.5L886.2 792.7L893.2 791.1L900.2 788.9L907.2 785.9L913.2 782.5L919.0 778.3L923.4 774.3L927.2 769.9L930.2 765.3L932.2 761.0L934.2 754.2L992.2 781.5L992.3 92.3L309.9 92.3L336.7 150.3L331.9 151.3L326.9 153.3L322.0 156.3L317.2 160.3L312.7 165.3L308.5 171.3L305.2 177.3L302.2 184.3L298.5 198.3L296.7 214.3L296.9 232.3L299.2 252.3L302.5 269.3L307.0 287.3L315.2 315.3L323.2 338.3L331.2 358.7L340.2 379.2L351.2 401.7L362.5 422.3L362.6 423.3L362.2 424.0L321.2 395.3L279.2 368.1L240.2 344.5L200.2 321.9L200.2 892.3L764.4 892.3ZM363.2 424.7L362.7 424.3L363.2 424.1L363.2 424.7ZM663.2 728.3L662.6 727.3L663.5 727.3L663.2 728.3Z" fill="#70ff8f" fill-rule="evenodd"/>
<path d="M754.8 892.3L728.2 845.3L700.2 799.3L671.2 755.3L640.5 712.3L641.2 712.1L643.2 713.0L665.6 726.3L689.9 739.3L712.9 750.3L733.9 759.3L754.9 767.3L776.2 774.4L803.2 782.1L823.2 786.5L844.2 789.5L863.2 790.1L872.2 789.6L880.2 788.5L888.2 786.8L895.2 784.7L902.2 781.8L909.2 778.0L915.2 773.7L920.2 769.2L924.2 764.5L927.5 759.3L929.7 754.3L931.2 747.8L961.0 762.3L992.2 776.9L992.3 92.3L314.5 92.3L342.7 153.3L337.3 154.3L332.2 156.4L326.2 160.2L321.5 164.3L317.1 169.3L313.0 175.3L309.3 182.3L306.4 189.3L304.3 196.3L302.6 204.3L301.0 221.3L301.6 240.3L304.4 261.3L309.2 283.3L316.7 310.3L324.2 333.3L332.2 354.5L342.2 378.0L353.2 401.0L365.2 423.6L378.4 446.3L378.2 447.2L334.2 415.1L288.2 384.3L244.8 357.3L200.2 331.7L200.2 892.3L754.8 892.3ZM640.2 712.0L639.7 711.3L640.4 711.3L640.2 712.0Z" fill="#60ff9f" fill-rule="evenodd"/>
<path d="M744.9 892.3L714.2 839.1L682.4 788.3L649.2 740.0L632.2 716.7L614.4 693.3L615.2 693.1L617.2 694.1L642.3 710.3L668.2 725.3L691.2 737.3L714.7 748.3L738.8 758.3L763.2 767.1L794.2 776.3L813.2 780.9L835.2 784.4L846.2 785.4L856.2 785.6L865.2 785.2L874.2 784.2L882.2 782.6L890.2 780.3L897.6 777.3L905.1 773.3L911.2 769.1L916.6 764.3L921.2 758.9L924.7 753.3L927.0 747.3L928.2 741.3L960.2 757.1L992.2 772.2L992.3 92.3L319.2 92.3L334.2 125.0L349.5 156.3L343.3 157.3L338.1 159.3L332.2 162.9L327.0 167.3L322.2 172.7L317.7 179.3L314.0 186.3L310.8 194.3L308.5 202.3L306.9 210.3L305.9 219.3L305.5 229.3L305.7 239.3L306.7 250.3L310.2 272.8L315.2 293.3L324.3 324.3L333.1 349.3L343.2 374.1L354.2 397.8L367.2 422.9L381.2 447.3L397.0 472.3L396.2 473.0L372.3 454.3L348.2 436.3L323.2 418.6L297.8 401.3L250.2 371.0L200.2 341.6L200.2 892.3L744.9 892.3ZM397.2 473.8L396.7 473.3L397.2 472.7L397.2 473.8ZM398.2 474.6L398.0 474.3L398.2 474.6ZM614.2 693.2L613.6 692.3L614.4 692.3L614.2 693.2Z" fill="#50ffaf" fill-rule="evenodd"/>
<path d="M734.8 892.3L717.2 861.7L698.9 831.3L680.2 801.8L661.2 773.3L641.6 745.3L621.7 718.3L601.2 691.9L580.4 666.3L581.2 666.2L609.0 686.3L636.6 704.3L662.1 719.3L688.8 733.3L716.9 746.3L744.2 757.2L768.2 765.4L798.2 773.8L811.2 776.7L823.2 778.7L834.2 780.1L845.2 780.8L855.2 780.8L865.2 780.0L874.2 778.6L883.2 776.4L891.5 773.3L899.5 769.3L907.1 764.3L912.9 759.3L917.2 754.3L921.2 748.0L923.6 742.3L925.2 734.6L958.5 751.3L992.2 767.3L992.3 92.3L324.0 92.3L338.2 123.1L355.8 159.3L349.2 160.5L343.2 162.9L337.2 166.6L331.2 171.9L325.8 178.3L321.4 185.3L317.6 193.3L314.7 201.3L312.4 210.3L311.0 219.3L310.3 229.3L310.2 239.3L310.9 250.3L312.3 262.3L317.2 287.3L325.4 317.3L334.0 343.3L344.2 369.5L357.2 398.3L371.2 425.5L387.2 453.2L403.2 478.2L423.1 506.3L422.2 506.7L393.2 482.7L363.2 459.2L339.2 441.3L313.8 423.3L286.2 404.7L258.2 386.6L230.1 369.3L200.2 351.8L200.2 892.3L734.8 892.3ZM423.2 507.5L423.2 506.6L423.2 507.5Z" fill="#40ffbf" fill-rule="evenodd"/>
<path d="M724.5 892.3L702.2 854.3L678.6 816.3L654.7 780.3L629.9 745.3L604.2 711.2L577.8 678.3L550.5 646.3L522.3 615.3L523.2 615.2L531.2 622.8L556.5 644.3L583.1 665.3L611.2 685.3L641.1 704.3L671.1 721.3L701.4 736.3L732.2 749.4L763.2 760.3L796.2 769.5L810.2 772.5L823.2 774.5L836.2 775.7L848.2 775.9L859.2 775.3L870.2 773.6L880.2 770.9L890.2 767.0L899.2 762.0L906.7 756.3L912.5 750.3L917.3 743.3L920.2 736.6L921.6 729.3L922.2 727.9L956.5 745.3L992.2 762.4L992.3 92.3L328.8 92.3L345.2 127.4L362.6 162.3L354.2 164.1L347.2 167.2L340.2 172.1L334.2 178.1L328.9 185.3L324.0 194.3L320.1 204.3L317.2 215.2L315.7 225.3L315.0 236.3L315.2 248.3L316.4 261.3L318.3 274.3L321.1 288.3L330.2 322.1L340.2 351.5L353.2 383.2L368.2 414.4L385.2 445.3L403.2 474.4L423.3 503.3L443.2 529.4L470.9 562.3L470.2 562.9L437.0 532.3L402.2 502.4L372.2 478.2L340.9 454.3L307.4 430.3L273.2 407.3L237.2 384.3L200.2 362.3L200.2 892.3L724.5 892.3ZM471.2 563.9L470.7 563.3L471.2 562.7L471.6 563.3L471.2 563.9ZM472.2 564.8L471.7 564.3L472.2 564.0L472.2 564.8ZM473.2 565.8L472.8 565.3L473.2 565.1L473.2 565.8ZM474.2 566.7L473.8 566.3L474.2 566.2L474.2 566.7ZM475.2 567.7L474.9 567.3L475.2 567.2L475.2 567.7ZM476.2 568.7L475.9 568.3L476.2 568.2L476.2 568.7ZM477.2 569.6L476.9 569.3L477.2 569.6ZM478.2 570.6L478.0 570.3L478.2 570.6ZM479.2 571.6L479.0 571.3L479.2 571.6ZM522.2 615.2L521.5 614.3L522.3 614.3L522.2 615.2Z" fill="#30ffcf" fill-rule="evenodd"/>
<path d="M853.5 770.3L866.2 768.4L878.2 764.9L889.2 760.1L899.2 753.9L906.6 747.3L912.7 739.3L916.5 731.3L917.9 726.3L918.5 721.3L919.2 721.0L954.8 739.3L992.2 757.5L992.3 92.3L333.7 92.3L351.2 129.3L369.4 165.3L368.2 166.1L360.9 167.3L355.2 169.6L348.9 173.3L343.0 178.3L337.2 184.9L332.4 192.3L328.4 200.3L325.0 209.3L322.6 218.3L321.1 227.3L320.2 237.3L320.0 248.3L320.6 259.3L322.0 271.3L324.3 284.3L327.1 297.3L335.1 326.3L344.2 353.2L355.2 380.5L368.2 408.4L383.2 436.7L400.2 465.3L418.2 492.4L437.2 518.4L458.2 544.6L481.2 570.7L505.2 595.5L530.5 619.3L557.2 642.3L582.8 662.3L609.5 681.3L637.6 699.3L665.6 715.3L695.4 730.3L725.2 743.3L753.2 753.5L786.2 763.1L809.2 768.1L821.2 769.8L832.2 770.7L843.2 770.9L853.5 770.3ZM714.0 892.3L689.2 850.9L664.1 811.3L637.5 772.3L610.2 735.0L582.2 699.1L553.2 664.3L522.8 630.3L491.3 597.3L459.2 566.1L425.6 535.3L391.2 506.0L355.3 477.3L318.2 449.7L280.3 423.3L240.4 397.3L200.2 372.9L200.2 892.3L714.0 892.3Z" fill="#20ffdf" fill-rule="evenodd"/>
<path d="M845.9 765.3L860.2 763.4L873.2 759.8L885.2 754.6L895.2 748.3L903.2 741.1L909.7 732.3L913.5 723.3L914.6 718.3L914.8 714.3L915.2 713.5L953.2 733.3L992.2 752.4L992.3 92.3L338.7 92.3L357.2 131.0L376.8 169.3L369.4 170.3L363.2 172.3L356.2 176.1L349.6 181.3L344.0 187.3L339.1 194.3L334.8 202.3L331.2 211.1L328.5 220.3L326.7 229.3L325.5 239.3L325.2 250.3L325.6 261.3L326.8 273.3L328.7 285.3L331.4 298.3L338.9 326.3L347.2 351.7L358.1 379.3L370.5 406.3L384.2 432.8L400.2 460.3L418.2 488.1L437.2 514.5L458.2 541.1L480.2 566.3L504.2 591.3L528.2 614.3L553.6 636.3L580.1 657.3L605.2 675.4L632.9 693.3L660.5 709.3L689.8 724.3L719.2 737.3L747.2 747.8L762.2 752.6L779.2 757.3L802.2 762.5L814.2 764.3L825.2 765.4L836.2 765.7L845.9 765.3ZM703.2 892.3L679.0 852.3L653.9 813.3L628.2 776.1L601.2 739.3L573.2 703.7L544.4 669.3L514.8 636.3L484.2 604.5L452.4 573.3L419.6 543.3L385.7 514.3L351.2 486.7L314.9 459.3L277.9 433.3L240.0 408.3L200.2 383.8L200.2 892.3L703.2 892.3Z" fill="#10ffef" fill-rule="evenodd"/>
<path d="M846.7 759.3L859.2 757.0L872.2 752.9L883.2 747.7L893.2 740.9L901.2 732.9L906.9 724.3L910.3 715.3L911.1 710.3L911.2 706.1L954.2 728.5L992.2 747.3L992.3 92.3L343.8 92.3L363.2 132.4L383.9 172.3L383.2 173.2L376.2 174.0L368.9 176.3L362.2 179.9L356.5 184.3L350.6 190.3L345.5 197.3L341.2 204.8L337.6 213.3L334.7 222.3L332.4 232.3L331.1 242.3L330.5 252.3L330.7 263.3L331.8 275.3L333.7 288.3L336.3 301.3L343.4 328.3L351.5 353.3L362.1 380.3L374.4 407.3L388.4 434.3L404.2 461.5L421.2 487.8L440.2 514.3L461.2 540.8L483.2 566.0L506.6 590.3L530.8 613.3L556.3 635.3L583.1 656.3L610.0 675.3L636.8 692.3L665.2 708.5L695.2 723.3L723.4 735.3L751.2 745.3L781.2 753.7L804.2 758.2L815.2 759.6L826.2 760.2L836.2 760.2L846.7 759.3ZM384.2 173.4L383.6 173.3L384.2 173.1L384.2 173.4ZM692.2 892.3L668.2 853.3L643.2 815.0L617.7 778.3L591.2 742.7L564.2 708.6L536.2 675.3L507.2 643.1L477.2 611.8L446.2 581.5L414.5 552.3L381.2 523.7L347.4 496.3L312.2 469.7L276.2 444.1L239.2 419.3L200.2 394.9L200.2 892.3L692.2 892.3Z" fill="#00ffff" fill-rule="evenodd"/>
<path d="M835.1 754.3L849.8 752.3L864.2 748.4L876.3 743.3L887.2 736.4L895.9 728.3L902.2 719.4L906.0 710.3L907.2 704.4L907.5 699.3L908.2 698.6L949.2 720.6L992.2 742.0L992.3 92.3L349.0 92.3L370.1 135.3L391.6 176.3L390.2 177.1L382.2 178.0L376.2 179.8L369.3 183.3L363.8 187.3L358.2 192.6L352.8 199.3L348.2 206.8L344.2 215.4L340.8 225.3L338.4 235.3L336.8 245.3L336.1 255.3L336.2 266.3L337.1 278.3L338.7 290.3L341.1 303.3L347.8 329.3L355.4 353.3L365.2 378.9L377.1 405.3L390.3 431.3L405.2 457.3L421.2 482.7L438.2 506.9L458.2 532.9L479.2 557.6L501.4 581.3L525.2 604.6L549.7 626.3L574.5 646.3L600.5 665.3L627.8 683.3L655.2 699.5L683.9 714.3L712.2 727.0L739.2 737.2L765.2 745.2L779.2 748.8L792.2 751.5L804.2 753.3L814.9 754.3L825.2 754.7L835.1 754.3ZM680.9 892.3L657.3 854.3L633.2 817.9L608.2 782.3L582.2 747.6L555.2 713.7L527.9 681.3L499.2 649.6L470.2 619.4L440.2 590.0L409.2 561.3L376.9 533.3L343.7 506.3L309.8 480.3L274.2 454.8L238.1 430.3L200.2 406.3L200.2 892.3L680.9 892.3Z" fill="#00efff" fill-rule="evenodd"/>
<path d="M831.7 748.3L847.2 745.9L861.2 741.9L873.6 736.3L884.2 729.3L892.2 721.5L898.5 712.3L902.2 702.7L903.3 697.3L903.6 691.3L904.2 690.6L947.9 714.3L992.2 736.7L992.3 92.3L354.3 92.3L376.2 136.8L399.4 180.3L398.2 181.1L391.2 181.5L384.2 183.4L377.7 186.3L371.2 190.6L365.2 195.9L359.8 202.3L355.2 209.4L350.8 218.3L347.5 227.3L344.9 237.3L342.9 248.3L342.0 258.3L341.9 269.3L342.6 281.3L344.1 293.3L346.4 306.3L352.7 331.3L360.2 355.3L369.4 379.3L380.4 404.3L393.2 429.9L407.2 454.7L423.2 480.2L440.2 504.7L459.2 529.5L480.2 554.5L502.4 578.3L525.9 601.3L550.2 623.0L575.2 643.2L601.2 662.2L627.3 679.3L654.6 695.3L682.2 709.7L710.2 722.2L737.2 732.4L763.2 740.2L777.2 743.7L790.2 746.2L801.2 747.8L812.2 748.7L822.2 748.8L831.7 748.3ZM669.4 892.3L646.2 855.5L622.2 819.7L597.2 784.5L572.2 751.4L546.2 719.0L519.3 687.3L491.3 656.3L463.2 627.1L433.9 598.3L403.2 570.0L372.2 543.0L339.8 516.3L306.2 490.5L272.2 465.7L236.6 441.3L200.2 417.9L200.2 892.3L669.4 892.3Z" fill="#00dfff" fill-rule="evenodd"/>
<path d="M825.1 742.3L841.2 740.0L855.2 736.2L868.2 730.6L879.2 723.4L884.2 719.0L888.2 714.6L894.4 705.3L896.6 700.3L898.2 695.3L899.3 689.3L899.4 683.3L900.2 682.5L945.2 707.3L992.2 731.3L992.3 92.3L359.6 92.3L380.5 134.3L407.4 184.3L407.5 185.3L400.2 185.4L393.2 186.9L386.2 189.6L379.2 193.8L373.2 198.7L367.2 205.3L362.4 212.3L358.2 220.3L354.6 229.3L351.6 239.3L349.5 250.3L348.2 261.3L347.8 272.3L348.3 283.3L349.6 295.3L351.7 308.3L357.2 331.5L364.2 354.3L373.1 378.3L383.5 402.3L395.3 426.3L409.2 451.5L424.2 475.9L440.2 499.3L459.2 524.6L479.8 549.3L501.2 572.8L524.2 595.7L548.2 617.3L572.7 637.3L598.2 656.2L624.0 673.3L650.9 689.3L678.2 703.7L706.2 716.3L732.4 726.3L758.2 734.2L772.2 737.7L784.2 740.1L805.2 742.5L815.2 742.8L825.1 742.3ZM657.7 892.3L634.7 856.3L611.2 821.8L587.2 788.3L562.2 755.6L536.2 723.4L510.2 693.0L483.2 663.2L455.5 634.3L427.0 606.3L397.2 578.7L367.1 552.3L335.2 526.1L303.2 501.2L269.4 476.3L235.2 452.7L200.2 429.8L200.2 892.3L657.7 892.3ZM899.2 682.9L899.2 682.2L899.7 682.3L899.2 682.9Z" fill="#00cfff" fill-rule="evenodd"/>
<path d="M813.7 736.3L832.2 734.4L848.2 730.5L855.2 728.0L862.2 724.8L868.4 721.3L874.1 717.3L879.2 712.9L883.4 708.3L887.2 703.2L890.2 697.9L892.6 692.3L894.3 686.3L895.0 681.3L894.9 674.3L895.2 673.7L942.8 700.3L992.2 725.8L992.3 92.3L365.1 92.3L390.2 142.2L416.1 189.3L415.2 189.8L407.2 189.8L401.2 191.0L394.2 193.5L387.2 197.4L380.8 202.3L375.0 208.3L369.9 215.3L365.2 223.6L361.2 233.2L358.2 243.2L356.1 253.3L354.6 265.3L354.1 276.3L354.4 287.3L355.6 299.3L357.5 311.3L362.3 332.3L368.8 354.3L376.7 376.3L386.3 399.3L397.4 422.3L410.2 446.2L424.2 469.5L439.4 492.3L457.7 517.3L477.2 541.5L498.2 565.0L520.1 587.3L542.8 608.3L566.6 628.3L591.2 647.1L616.2 664.3L642.3 680.3L669.9 695.3L696.2 707.8L722.2 718.2L747.2 726.4L773.2 732.7L794.2 735.8L804.2 736.4L813.7 736.3ZM645.7 892.3L623.2 857.7L600.3 824.3L577.1 792.3L552.6 760.3L527.4 729.3L501.6 699.3L475.2 670.3L448.2 642.2L420.2 614.7L391.2 587.7L361.2 561.4L331.1 536.3L299.2 511.4L267.2 487.6L234.0 464.3L200.2 441.9L200.2 892.3L645.7 892.3Z" fill="#00bfff" fill-rule="evenodd"/>
<path d="M813.9 729.3L831.2 727.0L846.2 722.9L853.2 720.1L860.2 716.6L866.2 712.9L871.2 709.0L876.2 704.3L880.5 699.3L884.2 693.5L886.8 688.3L888.9 682.3L890.2 676.3L890.6 670.3L890.2 665.2L891.2 665.3L919.0 681.3L946.1 696.3L992.2 720.3L992.3 92.3L370.6 92.3L396.1 142.3L424.8 194.3L417.2 194.2L409.6 195.3L402.2 197.7L395.2 201.3L388.4 206.3L382.4 212.3L377.0 219.3L372.2 227.6L368.5 236.3L365.3 246.3L362.9 257.3L361.4 268.3L360.7 280.3L360.9 291.3L361.9 303.3L363.9 316.3L368.6 337.3L374.9 358.3L382.8 380.3L392.1 402.3L403.2 425.3L415.2 447.5L428.4 469.3L443.2 491.7L461.3 516.3L480.7 540.3L501.3 563.3L523.2 585.7L545.7 606.3L569.6 626.3L594.8 645.3L619.9 662.3L646.2 678.2L672.8 692.3L699.2 704.5L725.2 714.5L750.2 722.1L774.2 727.4L785.2 728.9L795.2 729.7L804.2 729.8L813.9 729.3ZM633.4 892.3L611.7 859.3L589.2 827.0L566.2 795.6L542.2 764.6L517.5 734.3L492.4 705.3L466.9 677.3L440.2 649.6L412.5 622.3L384.6 596.3L356.2 571.3L326.3 546.3L296.0 522.3L265.2 499.3L233.0 476.3L200.2 454.3L200.2 892.3L633.4 892.3Z" fill="#00afff" fill-rule="evenodd"/>
<path d="M809.5 722.3L826.2 720.0L834.2 718.1L842.2 715.6L849.2 712.8L855.9 709.3L862.1 705.3L867.2 701.3L871.3 697.3L875.5 692.3L879.2 686.6L881.9 681.3L883.7 676.3L885.1 670.3L885.8 663.3L885.5 657.3L885.8 656.3L886.2 656.1L938.2 686.1L992.2 714.6L992.3 92.3L376.2 92.3L402.2 142.9L417.3 170.3L433.5 198.3L433.7 199.3L426.2 198.9L418.2 199.9L410.2 202.3L403.2 205.7L396.5 210.3L390.2 216.3L384.6 223.3L379.8 231.3L375.7 240.3L372.7 249.3L370.2 259.7L368.5 271.3L367.7 283.3L367.6 295.3L368.5 307.3L370.4 320.3L374.5 339.3L380.3 359.3L387.7 380.3L396.8 402.3L407.3 424.3L419.1 446.3L432.2 468.3L445.4 488.3L463.2 512.9L482.2 536.6L502.4 559.3L524.2 581.7L546.6 602.3L570.2 622.2L594.2 640.4L619.2 657.3L644.2 672.5L670.2 686.4L696.2 698.4L722.2 708.4L746.2 715.6L769.2 720.6L789.2 722.7L799.2 722.8L809.5 722.3ZM620.9 892.3L599.2 859.9L577.2 828.7L554.2 797.7L531.3 768.3L507.4 739.3L483.2 711.5L458.2 684.2L432.4 657.3L406.2 631.6L379.2 606.3L351.2 581.5L322.6 557.3L293.2 533.9L263.2 511.2L232.2 488.8L200.2 467.0L200.2 892.3L620.9 892.3Z" fill="#009fff" fill-rule="evenodd"/>
<path d="M800.8 715.3L819.2 713.2L827.2 711.5L835.2 709.1L842.4 706.3L849.2 703.0L855.3 699.3L861.2 694.8L866.2 690.0L870.2 685.3L874.1 679.3L877.0 673.3L879.1 667.3L880.2 661.9L880.9 654.3L880.4 647.3L881.2 646.8L907.2 662.4L935.1 678.3L963.2 693.7L992.2 708.9L992.3 92.3L381.9 92.3L397.2 122.3L412.2 150.3L427.4 177.3L443.3 204.3L434.2 204.0L426.2 204.9L418.2 207.2L411.4 210.3L404.2 215.1L398.2 220.5L392.6 227.3L387.5 235.3L383.3 244.3L380.1 253.3L377.5 264.3L375.8 275.3L374.9 287.3L374.8 300.3L375.6 312.3L377.2 324.3L380.9 342.3L386.3 361.3L393.2 381.3L401.2 401.1L410.2 420.5L421.2 441.5L433.2 462.2L446.2 482.5L463.2 506.5L482.0 530.3L501.2 552.5L522.2 574.4L544.2 595.2L566.6 614.3L589.9 632.3L614.3 649.3L640.2 665.3L665.2 679.0L690.2 690.7L715.2 700.6L739.2 708.1L761.2 713.0L781.2 715.3L800.8 715.3ZM608.1 892.3L587.2 861.5L565.7 831.3L544.0 802.3L521.2 773.3L497.9 745.3L474.2 718.1L449.7 691.3L424.6 665.3L399.2 640.3L372.6 615.3L345.6 591.3L318.2 568.1L290.0 545.3L261.2 523.3L231.1 501.3L200.2 479.9L200.2 892.3L608.1 892.3ZM880.2 647.0L880.2 646.1L880.6 646.3L880.2 647.0Z" fill="#008fff" fill-rule="evenodd"/>
<path d="M801.9 707.3L819.2 704.6L834.2 700.1L841.2 696.9L847.2 693.6L853.2 689.5L858.2 685.2L862.8 680.3L866.6 675.3L870.0 669.3L872.6 663.3L874.3 657.3L875.3 651.3L875.6 644.3L874.8 637.3L875.2 636.6L902.6 653.3L931.8 670.3L962.2 687.2L992.2 703.0L992.3 92.3L387.7 92.3L403.2 122.6L419.2 152.1L435.9 181.3L452.7 209.3L452.2 209.9L451.2 209.9L444.2 209.3L437.2 209.7L430.2 211.1L424.2 213.2L417.9 216.3L411.9 220.3L406.2 225.3L401.8 230.3L397.5 236.3L393.5 243.3L390.0 251.3L387.3 259.3L385.1 268.3L383.6 277.3L382.6 287.3L382.2 298.3L383.1 318.3L386.2 338.3L391.7 360.3L399.4 383.3L409.3 407.3L421.4 432.3L435.4 457.3L451.2 482.4L468.2 506.4L487.2 530.3L506.5 552.3L527.2 573.7L549.2 594.3L571.9 613.3L595.2 631.1L619.2 647.4L644.2 662.5L670.2 676.2L695.2 687.4L719.2 696.3L741.2 702.5L762.2 706.5L782.2 708.0L801.9 707.3ZM595.1 892.3L574.4 862.3L553.5 833.3L532.2 805.3L510.2 777.7L487.4 750.3L464.6 724.3L440.7 698.3L416.6 673.3L391.2 648.3L366.2 624.9L340.0 601.3L313.2 578.5L285.9 556.3L258.2 534.9L229.2 513.5L200.2 493.1L200.2 892.3L595.1 892.3Z" fill="#0080ff" fill-rule="evenodd"/>
<path d="M798.1 699.3L815.2 696.5L823.2 694.2L830.2 691.7L837.2 688.4L843.2 684.9L849.2 680.5L854.2 675.9L858.2 671.3L862.3 665.3L865.4 659.3L867.7 653.3L869.2 646.7L870.0 640.3L870.0 634.3L869.0 627.3L869.2 626.2L898.3 644.3L928.7 662.3L960.2 680.0L992.2 697.1L992.3 92.3L393.5 92.3L410.2 124.4L427.2 155.3L445.2 186.3L462.9 215.3L462.2 215.8L454.2 214.9L447.2 215.1L440.2 216.3L434.2 218.0L428.2 220.6L421.9 224.3L416.2 228.8L411.2 233.9L406.9 239.3L402.6 246.3L399.1 253.3L396.1 261.3L393.9 269.3L392.0 278.3L390.7 288.3L390.1 298.3L390.6 318.3L393.1 339.3L398.2 361.3L405.2 383.3L414.9 407.3L426.3 431.3L440.1 456.3L455.2 480.4L472.2 504.3L490.2 527.3L509.5 549.3L529.8 570.3L551.2 590.3L573.8 609.3L596.2 626.4L620.2 642.7L644.7 657.3L669.2 670.1L693.2 680.8L716.8 689.3L738.2 695.2L757.2 698.5L778.2 700.1L798.1 699.3ZM581.7 892.3L561.5 863.3L541.2 835.7L520.3 808.3L499.2 782.1L477.2 756.0L454.7 730.3L431.6 705.3L408.4 681.3L384.2 657.5L359.6 634.3L335.2 612.3L309.2 590.0L282.8 568.3L256.0 547.3L228.2 526.6L200.2 506.6L200.2 892.3L581.7 892.3Z" fill="#0070ff" fill-rule="evenodd"/>
<path d="M790.4 691.3L799.2 690.3L808.2 688.7L816.2 686.5L824.2 683.7L831.2 680.4L837.2 676.9L843.2 672.5L848.2 667.9L852.3 663.3L856.4 657.3L859.5 651.3L862.0 644.3L863.4 638.3L864.1 631.3L864.0 623.3L862.8 616.3L863.2 615.6L894.3 635.3L925.9 654.3L959.2 673.3L992.2 691.1L992.3 92.3L399.5 92.3L417.2 126.0L435.2 158.3L454.2 190.6L473.3 221.3L473.2 222.4L465.2 221.0L457.2 220.9L450.2 221.8L444.2 223.3L438.2 225.6L432.2 228.8L426.2 233.0L421.2 237.6L416.3 243.3L412.2 249.3L408.4 256.3L405.5 263.3L402.9 271.3L401.0 279.3L399.5 288.3L398.5 298.3L398.5 318.3L400.6 339.3L404.5 359.3L410.9 381.3L419.6 404.3L430.6 428.3L443.5 452.3L458.2 476.2L474.2 499.3L491.3 521.3L510.2 543.3L530.2 564.3L551.2 584.3L572.4 602.3L594.5 619.3L617.8 635.3L641.2 649.6L665.2 662.2L688.2 672.6L710.2 680.7L731.2 686.5L751.2 690.1L771.2 691.8L790.4 691.3ZM568.1 892.3L549.0 865.3L529.0 838.3L508.2 811.6L487.8 786.3L466.6 761.3L445.2 737.2L423.2 713.3L400.2 689.6L377.2 666.9L353.4 644.3L329.2 622.5L304.8 601.3L279.4 580.3L254.1 560.3L227.8 540.3L200.2 520.4L200.2 892.3L568.1 892.3Z" fill="#0060ff" fill-rule="evenodd"/>
<path d="M992.2 684.3L992.3 92.3L405.6 92.3L424.2 127.4L444.2 162.8L464.2 196.2L484.6 228.3L483.2 228.8L478.2 227.7L472.2 227.2L463.2 227.5L453.7 229.3L445.2 232.5L437.1 237.3L429.2 244.1L422.6 252.3L417.2 261.5L413.1 271.3L409.8 283.3L407.7 296.3L406.8 309.3L407.1 324.3L408.5 339.3L411.1 355.3L414.9 371.3L422.2 394.3L432.2 418.3L444.1 442.3L458.2 466.7L473.9 490.3L491.2 513.5L510.4 536.3L531.0 558.3L552.2 578.6L574.2 597.5L597.6 615.3L621.3 631.3L646.2 646.1L670.2 658.2L694.2 668.2L716.2 675.3L731.2 678.8L747.2 681.5L762.2 682.9L777.2 683.1L790.2 682.2L802.2 680.2L814.2 676.8L824.2 672.5L833.2 667.1L841.2 660.4L847.3 653.3L852.6 644.3L855.9 635.3L857.7 625.3L857.8 615.3L856.2 604.1L890.5 626.3L926.7 648.3L968.9 672.3L992.2 684.9L992.2 684.3ZM554.2 892.3L535.2 866.0L516.2 840.7L496.4 815.3L476.8 791.3L456.2 767.3L435.2 743.7L414.2 721.0L392.2 698.3L370.1 676.3L347.2 654.7L323.8 633.3L300.2 612.8L275.7 592.3L251.2 572.8L225.9 553.3L200.2 534.5L200.2 892.3L554.2 892.3Z" fill="#0050ff" fill-rule="evenodd"/>
<path d="M992.2 678.3L992.3 92.3L411.7 92.3L431.6 129.3L452.3 165.3L474.2 201.3L496.2 235.3L495.2 236.0L484.2 234.0L473.2 234.0L463.2 235.8L454.2 239.1L445.3 244.3L438.3 250.3L431.6 258.3L426.2 267.3L422.0 277.3L418.7 289.3L416.6 302.3L415.8 315.3L416.1 329.3L417.5 344.3L420.3 360.3L424.0 376.3L431.0 398.3L440.2 420.9L451.4 443.3L465.2 467.3L480.2 489.9L497.1 512.3L515.2 534.0L534.3 554.3L555.2 574.3L576.3 592.3L598.6 609.3L622.2 625.3L645.2 638.8L668.2 650.3L690.2 659.4L711.2 666.0L727.2 669.8L743.2 672.5L758.2 673.9L772.2 674.1L785.2 673.1L798.2 670.8L809.2 667.4L819.2 663.0L828.2 657.3L836.0 650.3L842.2 642.4L846.6 634.3L849.8 624.3L851.3 614.3L851.1 604.3L850.2 598.3L848.9 593.3L849.2 592.4L885.2 616.2L920.9 638.3L962.2 662.3L991.5 678.3L992.2 678.7L992.2 678.3ZM496.2 236.5L495.9 236.3L496.2 235.5L496.6 236.3L496.2 236.5ZM540.0 892.3L503.2 843.1L484.2 819.1L464.7 795.3L425.2 750.3L404.8 728.3L383.4 706.3L362.2 685.3L340.2 664.4L318.2 644.3L295.4 624.3L249.2 586.2L225.0 567.3L200.2 548.8L200.2 892.3L540.0 892.3Z" fill="#0040ff" fill-rule="evenodd"/>
<path d="M992.2 672.3L992.3 92.3L417.9 92.3L439.2 131.4L461.9 170.3L485.2 208.0L508.7 243.3L508.2 244.0L507.2 243.9L496.2 241.5L485.2 241.0L475.2 242.2L466.2 244.9L457.3 249.3L449.4 255.3L442.8 262.3L436.8 271.3L432.2 281.3L428.8 292.3L426.3 305.3L425.3 318.3L425.4 332.3L426.8 347.3L429.2 362.3L432.9 378.3L439.7 400.3L448.0 421.3L458.2 442.6L471.2 465.3L486.2 488.2L502.0 509.3L519.6 530.3L538.3 550.3L558.2 569.4L579.2 587.3L600.3 603.3L622.2 618.0L643.3 630.3L665.3 641.3L686.2 649.8L708.2 656.7L724.2 660.5L739.2 663.0L754.2 664.4L768.2 664.5L781.2 663.3L793.2 661.0L804.2 657.5L814.2 652.8L823.2 646.7L830.2 639.9L835.9 632.3L840.3 623.3L843.0 614.3L844.2 604.3L843.7 592.3L841.3 581.3L842.2 580.4L878.2 604.7L915.5 628.3L954.3 651.3L992.2 672.3ZM509.2 244.4L508.9 244.3L509.2 244.4ZM525.5 892.3L490.2 845.7L453.2 800.4L415.2 757.3L375.3 715.3L334.2 675.3L291.2 636.6L246.6 599.3L200.2 563.5L200.2 892.3L525.5 892.3ZM841.2 581.2L840.9 580.3L841.2 579.7L842.1 580.3L841.2 581.2Z" fill="#0030ff" fill-rule="evenodd"/>
<path d="M992.2 665.3L992.3 92.3L424.3 92.3L447.2 134.0L471.2 174.6L496.2 214.1L522.2 252.3L521.2 252.8L510.2 249.8L499.2 248.6L488.2 249.2L478.9 251.3L469.4 255.3L461.7 260.3L454.3 267.3L448.2 275.5L443.2 285.0L439.6 295.3L436.9 307.3L435.4 320.3L435.3 334.3L436.4 349.3L438.7 364.3L442.3 380.3L448.7 401.3L457.2 423.3L467.2 444.3L478.5 464.3L492.2 485.5L508.2 507.1L525.1 527.3L543.0 546.3L561.8 564.3L581.8 581.3L602.2 596.8L623.2 610.7L643.5 622.3L664.2 632.3L685.2 640.7L706.2 647.2L722.2 650.9L737.2 653.3L751.2 654.4L765.2 654.2L778.2 652.8L790.2 650.1L800.7 646.3L810.0 641.3L818.2 635.1L825.2 627.5L830.4 619.3L834.0 610.3L836.2 600.3L836.7 590.3L835.7 579.3L832.7 567.3L833.2 566.7L873.2 594.3L913.6 620.3L960.6 648.3L992.2 666.0L992.2 665.3ZM832.2 566.7L832.2 566.0L832.7 566.3L832.2 566.7ZM510.6 892.3L476.9 848.3L441.5 805.3L405.1 764.3L367.0 724.3L327.2 685.5L286.2 648.4L244.2 613.0L200.2 578.5L200.2 892.3L510.6 892.3Z" fill="#0020ff" fill-rule="evenodd"/>
<path d="M992.2 659.3L992.3 92.3L430.7 92.3L455.3 136.3L481.2 179.6L508.2 221.4L536.0 261.3L535.2 262.3L525.2 259.1L514.2 257.2L506.2 256.8L498.2 257.4L490.2 259.0L482.2 261.9L475.2 265.8L469.2 270.3L463.4 276.3L458.3 283.3L454.2 290.8L450.9 299.3L448.2 309.3L446.6 319.3L445.9 330.3L445.9 341.3L446.9 353.3L448.6 365.3L451.1 377.3L454.5 390.3L458.6 403.3L463.5 416.3L469.2 429.9L475.7 443.3L482.7 456.3L490.2 469.2L498.2 481.5L507.2 494.2L526.4 518.3L547.6 541.3L571.1 563.3L595.2 582.8L619.3 599.3L632.2 607.1L645.2 614.1L658.2 620.5L671.2 626.1L684.2 631.0L697.2 635.2L710.2 638.6L722.2 641.1L734.2 642.8L746.2 643.7L757.2 643.6L768.2 642.7L778.2 640.9L787.2 638.3L795.2 635.1L803.2 630.6L810.0 625.3L815.8 619.3L820.7 612.3L824.2 605.3L826.8 597.3L828.2 589.3L828.6 581.3L828.0 572.3L826.1 562.3L823.1 553.3L823.2 551.9L863.2 580.4L905.6 608.3L949.8 635.3L992.2 659.3ZM536.2 262.6L535.3 262.3L536.2 261.7L536.7 262.3L536.2 262.6ZM495.5 892.3L462.8 850.3L429.2 810.0L394.2 770.8L358.2 733.1L320.7 696.3L282.2 661.3L242.2 627.2L200.2 593.8L200.2 892.3L495.5 892.3Z" fill="#0010ff" fill-rule="evenodd"/>
<path d="M992.2 652.3L992.3 92.3L437.3 92.3L464.2 140.1L492.5 186.3L522.2 231.2L552.4 273.3L551.2 273.4L540.2 269.3L532.2 267.3L523.2 266.0L514.2 265.8L505.2 266.8L497.2 268.9L490.2 271.8L483.2 276.1L477.1 281.3L471.9 287.3L467.4 294.3L463.6 302.3L460.7 311.3L458.7 320.3L457.5 330.3L457.1 341.3L457.6 352.3L458.9 364.3L461.1 376.3L464.0 388.3L467.5 400.3L472.1 413.3L477.4 426.3L483.5 439.3L490.2 452.3L497.2 464.5L505.4 477.3L514.2 490.1L523.5 502.3L533.2 514.3L553.2 536.0L575.2 556.5L598.8 575.3L623.2 591.8L636.1 599.3L648.2 605.8L660.2 611.5L673.2 616.9L685.3 621.3L698.2 625.3L710.2 628.3L722.2 630.5L734.2 631.9L745.2 632.3L755.2 632.0L765.2 630.8L774.2 628.9L783.2 625.9L791.2 622.0L798.2 617.4L804.2 612.2L809.2 606.3L813.2 599.8L816.5 592.3L818.6 584.3L819.7 575.3L819.6 567.3L818.6 558.3L816.2 548.2L812.4 537.3L813.2 536.8L856.5 568.3L902.2 599.1L952.8 630.3L987.6 650.3L992.2 652.9L992.2 652.3ZM812.2 537.1L812.2 536.0L812.7 536.3L812.2 537.1ZM480.1 892.3L448.5 852.3L416.5 814.3L383.3 777.3L349.2 741.8L314.0 707.3L277.0 673.3L239.2 640.9L200.2 609.4L200.2 892.3L480.1 892.3Z" fill="#0000ff" fill-rule="evenodd"/>
<path d="M992.2 645.3L992.3 92.3L443.9 92.3L473.2 143.6L504.2 193.3L536.2 240.5L569.3 285.3L568.2 285.8L558.2 281.4L548.2 278.3L539.2 276.4L530.2 275.6L521.2 275.8L513.2 277.0L505.7 279.3L499.2 282.4L493.2 286.3L487.2 291.7L482.2 297.9L477.8 305.3L474.4 313.3L471.8 322.3L470.2 331.3L469.3 341.3L469.3 352.3L470.2 363.3L471.8 374.3L474.4 386.3L477.6 398.3L481.6 410.3L486.3 422.3L492.2 435.7L498.2 447.5L505.4 460.3L512.9 472.3L521.2 484.6L539.2 507.8L559.2 529.6L570.2 540.3L581.2 550.1L604.2 568.2L616.2 576.5L628.2 584.1L640.2 590.9L652.2 597.1L664.2 602.6L677.2 607.7L689.2 611.8L701.2 615.1L713.2 617.6L724.2 619.2L735.2 620.0L745.2 619.9L755.2 619.0L764.2 617.4L773.2 614.6L780.7 611.3L787.4 607.3L793.6 602.3L799.0 596.3L803.2 589.8L806.3 583.3L808.6 575.3L809.8 567.3L810.1 558.3L809.2 549.3L807.4 540.3L804.2 530.0L800.2 520.3L799.9 519.3L800.2 518.8L823.2 536.5L847.2 554.2L871.6 571.3L896.2 587.9L923.3 605.3L952.2 623.1L992.2 646.2L992.2 645.3ZM799.2 518.6L799.2 518.0L799.6 518.3L799.2 518.6ZM464.3 892.3L434.7 855.3L404.2 819.5L372.4 784.3L340.2 750.8L307.2 718.3L272.5 686.3L236.9 655.3L200.2 625.4L200.2 892.3L464.3 892.3Z" fill="#0000ef" fill-rule="evenodd"/>
<path d="M992.2 639.3L992.3 92.3L450.6 92.3L466.5 120.3L483.1 148.3L499.9 175.3L516.8 201.3L534.2 226.9L552.2 252.1L570.3 276.3L589.1 300.3L588.2 300.8L577.4 295.3L567.2 291.4L558.2 288.8L549.2 287.0L540.2 286.3L532.2 286.5L524.2 287.8L517.2 289.9L510.2 293.2L504.2 297.3L498.8 302.3L494.1 308.3L490.1 315.3L486.8 323.3L484.4 332.3L483.0 341.3L482.4 351.3L482.6 361.3L483.7 372.3L485.6 383.3L488.5 395.3L492.2 407.3L496.6 419.3L501.7 431.3L507.5 443.3L514.1 455.3L521.4 467.3L529.2 479.1L546.3 501.3L565.4 522.3L586.2 541.8L597.2 550.8L608.6 559.3L620.2 567.3L631.5 574.3L643.2 580.9L655.2 586.9L667.2 592.2L679.2 596.7L690.6 600.3L702.2 603.2L713.2 605.3L724.2 606.5L734.2 606.8L744.2 606.2L753.2 604.9L762.2 602.5L770.2 599.2L777.0 595.3L783.2 590.4L788.2 585.1L792.2 579.2L795.6 572.3L797.8 565.3L799.1 557.3L799.5 549.3L798.9 540.3L797.3 531.3L795.2 523.3L791.2 512.3L785.5 500.3L786.2 499.5L810.2 518.6L834.8 537.3L859.6 555.3L885.2 573.1L911.2 590.3L938.0 607.3L966.2 624.3L992.2 639.3ZM589.2 301.4L589.2 301.0L589.2 301.4ZM785.2 500.0L784.9 499.3L785.2 498.7L786.0 499.3L785.2 500.0ZM448.2 892.3L420.2 857.9L391.4 824.3L361.4 791.3L331.2 760.0L300.1 729.3L267.8 699.3L234.8 670.3L200.2 641.6L200.2 892.3L448.2 892.3Z" fill="#0000df" fill-rule="evenodd"/>
<path d="M992.2 632.3L992.3 92.3L457.5 92.3L475.2 123.3L493.2 153.1L512.2 183.1L531.1 211.3L550.8 239.3L570.7 266.3L591.2 292.8L612.1 318.3L611.2 319.2L599.2 312.2L587.2 306.6L578.6 303.3L570.2 300.9L561.2 299.1L553.2 298.3L545.2 298.3L537.2 299.4L530.2 301.4L523.2 304.6L517.2 308.6L512.1 313.3L507.4 319.3L503.5 326.3L500.4 334.3L498.4 342.3L497.1 351.3L496.7 360.3L497.2 370.3L498.5 381.3L500.7 392.3L504.0 404.3L507.7 415.3L512.5 427.3L518.1 439.3L523.9 450.3L531.0 462.3L538.2 473.3L546.2 484.3L555.0 495.3L573.2 515.3L583.2 525.0L593.8 534.3L604.2 542.8L615.2 550.9L626.4 558.3L638.2 565.4L649.3 571.3L661.2 576.9L672.2 581.4L684.2 585.5L695.2 588.4L706.2 590.6L717.2 591.9L727.2 592.2L736.2 591.8L745.2 590.3L753.2 588.1L760.2 585.2L767.2 581.1L773.1 576.3L778.2 570.4L782.0 564.3L784.9 557.3L786.6 550.3L787.6 542.3L787.5 533.3L786.3 524.3L784.3 515.3L781.2 505.7L777.5 496.3L772.2 485.8L766.1 475.3L766.2 474.5L793.7 497.3L820.2 518.3L846.8 538.3L874.8 558.3L904.2 578.3L933.6 597.3L965.2 616.7L992.2 632.3ZM612.2 319.8L611.5 319.3L612.2 318.5L612.9 319.3L612.2 319.8ZM613.2 320.6L612.9 320.3L613.2 319.7L613.8 320.3L613.2 320.6ZM431.7 892.3L405.2 860.2L378.2 829.1L350.2 798.5L322.2 769.3L292.7 740.3L262.8 712.3L232.2 685.2L200.2 658.3L200.2 892.3L431.7 892.3Z" fill="#0000cf" fill-rule="evenodd"/>
<path d="M992.2 625.3L992.3 92.3L464.4 92.3L484.8 127.3L505.7 161.3L527.2 194.4L549.3 226.3L572.2 257.7L596.0 288.3L620.2 318.0L644.9 346.3L644.2 347.3L633.2 339.3L622.5 332.3L612.0 326.3L601.2 321.2L591.2 317.2L582.2 314.5L573.2 312.7L565.2 311.9L557.2 311.9L549.2 313.1L542.2 315.2L535.9 318.3L530.2 322.4L525.2 327.5L521.1 333.3L517.7 340.3L515.1 348.3L513.4 357.3L512.8 366.3L513.1 376.3L514.2 386.3L516.4 397.3L519.4 408.3L523.3 419.3L528.2 431.3L533.6 442.3L540.2 454.2L547.2 465.3L555.0 476.3L563.2 486.9L572.2 497.3L581.2 506.9L591.0 516.3L601.3 525.3L612.2 534.0L623.2 541.8L634.2 548.8L645.8 555.3L657.2 561.0L668.2 565.6L679.2 569.5L690.2 572.5L701.2 574.7L711.2 575.8L721.2 576.0L730.2 575.3L738.2 573.7L746.2 571.0L753.2 567.4L758.8 563.3L763.8 558.3L767.9 552.3L771.1 545.3L773.1 538.3L774.1 530.3L774.1 522.3L773.1 513.3L771.1 504.3L768.3 495.3L764.4 485.3L755.2 467.3L748.2 456.1L739.2 443.3L738.6 442.3L739.2 441.8L768.0 467.3L797.2 491.8L828.2 516.3L859.0 539.3L891.7 562.3L924.8 584.3L959.9 606.3L992.2 625.3ZM645.2 347.9L644.3 347.3L645.2 346.7L645.8 347.3L645.2 347.9ZM646.2 348.7L645.7 348.3L646.2 347.9L646.7 348.3L646.2 348.7ZM647.2 349.6L647.2 349.0L647.6 349.3L647.2 349.6ZM648.2 350.5L648.2 350.1L648.2 350.5ZM736.2 439.5L736.2 439.1L736.6 439.3L736.2 439.5ZM737.2 440.7L737.2 440.0L737.6 440.3L737.2 440.7ZM738.2 441.9L737.9 441.3L738.2 440.9L738.7 441.3L738.2 441.9ZM415.0 892.3L390.2 862.8L365.2 834.3L339.2 806.0L312.5 778.3L285.2 751.4L257.5 725.3L229.2 700.0L200.2 675.2L200.2 892.3L415.0 892.3Z" fill="#0000bf" fill-rule="evenodd"/>
<path d="M992.2 618.3L992.3 92.3L471.4 92.3L496.2 134.3L522.2 175.3L548.7 214.3L576.2 252.3L605.1 289.3L634.2 324.3L664.7 358.3L696.3 391.3L729.0 423.3L763.1 454.3L798.2 484.2L834.2 512.8L871.4 540.3L910.4 567.3L950.7 593.3L992.2 618.3ZM716.1 557.3L725.2 555.9L733.2 553.4L740.2 549.8L746.2 545.1L751.2 539.2L755.0 532.3L757.5 524.3L758.5 516.3L758.3 507.3L756.8 497.3L754.2 487.3L750.2 476.7L745.2 465.9L739.2 455.0L731.2 442.4L723.2 431.3L712.2 417.5L701.2 405.1L688.2 391.7L675.2 379.3L662.2 368.3L649.2 358.2L636.2 349.4L624.2 342.4L612.2 336.5L601.4 332.3L591.2 329.5L581.2 327.9L572.2 327.7L563.2 328.9L555.2 331.6L548.2 335.7L543.2 340.2L539.3 345.3L536.0 351.3L533.5 358.3L531.8 366.3L531.1 374.3L531.2 383.3L532.2 392.3L534.2 402.3L537.0 412.3L540.5 422.3L544.7 432.3L549.7 442.3L555.3 452.3L562.2 463.1L569.2 472.9L584.7 491.3L602.1 508.3L620.7 523.3L630.2 529.9L640.2 536.1L650.2 541.5L660.2 546.1L670.2 550.1L680.2 553.3L690.2 555.6L699.2 557.0L708.2 557.6L716.1 557.3ZM397.8 892.3L374.9 865.3L351.2 838.6L327.2 812.7L303.2 788.0L278.4 763.3L253.0 739.3L226.5 715.3L200.2 692.6L200.2 892.3L397.8 892.3Z" fill="#0000af" fill-rule="evenodd"/>
<path d="M992.2 610.3L992.3 92.3L478.6 92.3L503.2 133.7L528.6 173.3L555.2 212.3L582.2 249.4L611.2 286.3L640.2 321.1L670.2 354.5L701.7 387.3L734.5 419.3L768.2 450.0L803.2 479.8L839.2 508.3L877.2 536.5L917.5 564.3L964.3 594.3L992.2 611.2L992.2 610.3ZM705.1 535.3L712.2 534.1L719.2 531.7L725.2 528.4L730.0 524.3L733.9 519.3L736.8 513.3L738.6 507.3L739.4 500.3L739.2 492.3L738.0 484.3L735.6 475.3L732.3 466.3L727.7 456.3L722.2 446.5L716.2 437.1L709.2 427.3L701.2 417.3L691.6 406.3L681.7 396.3L671.9 387.3L661.2 378.5L650.2 370.4L640.2 363.9L630.3 358.3L620.2 353.7L611.2 350.5L602.2 348.2L594.2 347.1L586.2 347.1L579.2 348.2L573.0 350.3L567.2 353.7L563.2 357.2L559.9 361.3L557.1 366.3L554.8 372.3L553.5 378.3L552.8 385.3L552.9 392.3L553.7 400.3L555.3 408.3L557.5 416.3L564.2 433.3L573.2 450.2L584.2 466.2L596.9 481.3L611.2 495.3L627.2 508.2L643.2 518.5L660.2 526.9L676.2 532.4L684.2 534.2L691.2 535.2L698.2 535.6L705.1 535.3ZM380.3 892.3L359.2 867.8L338.2 844.3L316.2 820.8L293.5 797.3L271.2 775.3L248.2 753.3L224.2 731.4L200.2 710.2L200.2 892.3L380.3 892.3Z" fill="#00009f" fill-rule="evenodd"/>
<path d="M992.2 603.3L992.3 92.3L485.8 92.3L510.2 132.9L535.7 172.3L561.8 210.3L589.0 247.3L617.2 283.3L645.9 317.3L675.5 350.3L706.2 382.3L738.2 413.6L771.2 443.7L805.9 473.3L841.0 501.3L878.5 529.3L917.2 556.3L960.3 584.3L992.2 603.8L992.2 603.3ZM692.2 506.3L697.2 505.0L701.2 503.2L705.2 500.4L708.2 497.2L710.7 493.3L712.3 489.3L713.4 484.3L713.8 478.3L713.2 472.3L712.0 466.3L710.2 460.3L707.2 452.8L699.5 438.3L689.5 424.3L677.2 410.5L664.0 398.3L649.2 387.5L635.2 379.7L622.2 374.9L616.2 373.6L610.2 372.9L604.2 373.1L599.2 374.1L595.2 375.7L590.9 378.3L587.8 381.3L585.6 384.3L583.6 388.3L582.3 392.3L581.1 401.3L582.0 412.3L585.2 424.3L590.2 436.3L597.1 448.3L604.9 459.3L614.5 470.3L625.1 480.3L636.2 488.9L648.2 496.3L660.2 501.9L671.2 505.3L682.2 506.9L692.2 506.3ZM362.5 892.3L324.2 849.3L284.2 807.4L243.2 767.3L200.2 728.3L200.2 892.3L362.5 892.3Z" fill="#00008f" fill-rule="evenodd"/>
</g>
</g>
<path d="M204.2 96.3L206.2 97.1L208.2 97.8L210.1 98.5L212.1 99.2L214.1 99.9L216.0 100.7L218.0 101.4L219.9 102.1L221.9 102.9L223.9 103.6L225.8 104.4L227.8 105.1L229.8 105.8L231.7 106.6L233.7 107.3L235.6 108.1L237.6 108.9L239.6 109.6L241.5 110.4L243.5 111.1L245.5 111.9L247.4 112.7L249.4 113.4L251.4 114.2L253.3 115.0L255.3 115.8L257.2 116.5L259.2 117.3L261.2 118.1L263.1 118.9L265.1 119.7L267.1 120.5L269.0 121.3L271.0 122.1L272.9 122.9L274.9 123.7L276.9 124.5L278.8 125.3L280.8 126.1L282.8 126.9L284.7 127.8L286.7 128.6L288.6 129.4L290.6 130.2L292.6 131.1L294.5 131.9L296.5 132.7L298.5 133.6L300.4 134.4L302.4 135.3L304.3 136.1L306.3 137.0L308.3 137.8L310.2 138.7L312.2 139.5L314.2 140.4L316.1 141.3L318.1 142.1L320.0 143.0L322.0 143.9L324.0 144.8L325.9 145.6L327.9 146.5L329.9 147.4L331.8 148.3L333.8 149.2L335.7 150.1L337.7 151.0L339.7 151.9L341.6 152.8L343.6 153.7L345.6 154.6L347.5 155.5L349.5 156.5L351.4 157.4L353.4 158.3L355.4 159.2L357.3 160.2L359.3 161.1L361.3 162.0L363.2 163.0L365.2 163.9L367.1 164.9L369.1 165.8L371.1 166.8L373.0 167.8L375.0 168.7L377.0 169.7L378.9 170.7L380.9 171.6L382.8 172.6L384.8 173.6L386.8 174.6L388.7 175.6L390.7 176.6L392.7 177.6L394.6 178.6L396.6 179.6L398.6 180.6L400.5 181.6L402.5 182.6L404.4 183.6L406.4 184.7L408.4 185.7L410.3 186.7L412.3 187.8L414.3 188.8L416.2 189.9L418.2 190.9L420.1 192.0L422.1 193.0L424.1 194.1L426.0 195.1L428.0 196.2L430.0 197.3L431.9 198.4L433.9 199.5L435.8 200.5L437.8 201.6L439.8 202.7L441.7 203.8L443.7 204.9L445.7 206.0L447.6 207.1L449.6 208.3L451.5 209.4L453.5 210.5L455.5 211.6L457.4 212.8L459.4 213.9L461.4 215.1L463.3 216.2L465.3 217.4L467.2 218.5L469.2 219.7L471.2 220.9L473.1 222.0L475.1 223.2L477.1 224.4L479.0 225.6L481.0 226.8L482.9 228.0L484.9 229.2L486.9 230.4L488.8 231.6L490.8 232.8L492.8 234.0L494.7 235.3L496.7 236.5L498.6 237.7L500.6 239.0L502.6 240.2L504.5 241.5L506.5 242.7L508.5 244.0L510.4 245.3L512.4 246.5L514.3 247.8L516.3 249.1L518.3 250.4L520.2 251.7L522.2 253.0L524.2 254.3L526.1 255.6L528.1 256.9L530.1 258.3L532.0 259.6L534.0 260.9L535.9 262.3L537.9 263.6L539.9 265.0L541.8 266.4L543.8 267.7L545.8 269.1L547.7 270.5L549.7 271.9L551.6 273.3L553.6 274.6L555.6 276.1L557.5 277.5L559.5 278.9L561.5 280.3L563.4 281.7L565.4 283.2L567.3 284.6L569.3 286.1L571.3 287.5L573.2 289.0L575.2 290.5L577.2 291.9L579.1 293.4L581.1 294.9L583.0 296.4L585.0 297.9L587.0 299.4L588.9 300.9L590.9 302.5L592.9 304.0L594.8 305.5L596.8 307.1L598.7 308.6L600.7 310.2L602.7 311.8L604.6 313.3L606.6 314.9L608.6 316.5L610.5 318.1L612.5 319.7L614.4 321.3L616.4 322.9L618.4 324.6L620.3 326.2L622.3 327.9L624.3 329.5L626.2 331.2L628.2 332.8L630.1 334.5L632.1 336.2L634.1 337.9L636.0 339.6L638.0 341.3L640.0 343.0L641.9 344.8L643.9 346.5L645.8 348.3L647.8 350.0L649.8 351.8L651.7 353.5L653.7 355.3L655.7 357.1L657.6 358.9L659.6 360.7L661.5 362.5L663.5 364.4L665.5 366.2L667.4 368.1L669.4 369.9L671.4 371.8L673.3 373.6L675.3 375.5L677.3 377.4L679.2 379.3L681.2 381.2L683.1 383.2L685.1 385.1L687.1 387.1L689.0 389.0L691.0 391.0L693.0 392.9L694.9 394.9L696.9 396.9L698.8 398.9L700.8 401.0L702.8 403.0L704.7 405.0L706.7 407.1L708.7 409.1L710.6 411.2L712.6 413.3L714.5 415.4L716.5 417.5L718.5 419.6L720.4 421.8L722.4 423.9L724.4 426.1L726.3 428.2L728.3 430.4L730.2 432.6L732.2 434.8L734.2 437.0L736.1 439.3L738.1 441.5L740.1 443.7L742.0 446.0L744.0 448.3L745.9 450.6L747.9 452.9L749.9 455.2L751.8 457.6L753.8 459.9L755.8 462.3L757.7 464.6L759.7 467.0L761.6 469.4L763.6 471.8L765.6 474.3L767.5 476.7L769.5 479.2L771.5 481.7L773.4 484.1L775.4 486.6L777.3 489.2L779.3 491.7L781.3 494.3L783.2 496.8L785.2 499.4L787.2 502.0L789.1 504.6L791.1 507.2L793.0 509.9L795.0 512.5L797.0 515.2L798.9 517.9L800.9 520.6L802.9 523.4L804.8 526.1L806.8 528.9L808.8 531.6L810.7 534.4L812.7 537.3L814.6 540.1L816.6 542.9L818.6 545.8L820.5 548.7L822.5 551.6L824.5 554.5L826.4 557.5L828.4 560.4L830.3 563.4L832.3 566.4L834.3 569.5L836.2 572.5L838.2 575.6L840.2 578.6L842.1 581.8L844.1 584.9L846.0 588.0L848.0 591.2L850.0 594.4L851.9 597.6L853.9 600.8L855.9 604.1L857.8 607.4L859.8 610.7L861.7 614.0L863.7 617.3L865.7 620.7L867.6 624.1L869.6 627.5L871.6 630.9L873.5 634.4L875.5 637.9L877.4 641.4L879.4 644.9L881.4 648.5L883.3 652.1L885.3 655.7L887.3 659.4L889.2 663.0L891.2 666.7L893.1 670.4L895.1 674.2L897.1 678.0L899.0 681.8L901.0 685.6L903.0 689.5L904.9 693.4L906.9 697.3L908.8 701.2L910.8 705.2L912.8 709.2L914.7 713.3L916.7 717.3L918.7 721.4L920.6 725.6L922.6 729.7L924.5 733.9L926.5 738.2L928.5 742.4L930.4 746.7L932.4 751.0L934.4 755.4L936.3 759.8L938.3 764.2L940.2 768.7L942.2 773.2L944.2 777.8L946.1 782.3L948.1 787.0L950.1 791.6L952.0 796.3L954.0 801.0L956.0 805.8L957.9 810.6L959.9 815.5L961.8 820.4L963.8 825.3L965.8 830.3L967.7 835.3L969.7 840.4L971.7 845.5L973.6 850.6L975.6 855.8L977.5 861.0L979.5 866.3L981.5 871.7L983.4 877.0L985.4 882.5L987.4 887.9L987.4 887.9L985.4 887.2L983.4 886.5L981.5 885.8L979.5 885.0L977.5 884.3L975.6 883.6L973.6 882.9L971.7 882.1L969.7 881.4L967.7 880.6L965.8 879.9L963.8 879.2L961.8 878.4L959.9 877.7L957.9 876.9L956.0 876.2L954.0 875.4L952.0 874.7L950.1 873.9L948.1 873.1L946.1 872.4L944.2 871.6L942.2 870.8L940.2 870.0L938.3 869.3L936.3 868.5L934.4 867.7L932.4 866.9L930.4 866.1L928.5 865.4L926.5 864.6L924.5 863.8L922.6 863.0L920.6 862.2L918.7 861.4L916.7 860.6L914.7 859.8L912.8 858.9L910.8 858.1L908.8 857.3L906.9 856.5L904.9 855.7L903.0 854.9L901.0 854.0L899.0 853.2L897.1 852.4L895.1 851.5L893.1 850.7L891.2 849.8L889.2 849.0L887.3 848.2L885.3 847.3L883.3 846.4L881.4 845.6L879.4 844.7L877.4 843.9L875.5 843.0L873.5 842.1L871.6 841.3L869.6 840.4L867.6 839.5L865.7 838.6L863.7 837.7L861.7 836.9L859.8 836.0L857.8 835.1L855.9 834.2L853.9 833.3L851.9 832.4L850.0 831.5L848.0 830.6L846.0 829.6L844.1 828.7L842.1 827.8L840.2 826.9L838.2 826.0L836.2 825.0L834.3 824.1L832.3 823.2L830.3 822.2L828.4 821.3L826.4 820.3L824.5 819.4L822.5 818.4L820.5 817.5L818.6 816.5L816.6 815.5L814.6 814.6L812.7 813.6L810.7 812.6L808.8 811.6L806.8 810.6L804.8 809.7L802.9 808.7L800.9 807.7L798.9 806.7L797.0 805.7L795.0 804.7L793.0 803.7L791.1 802.6L789.1 801.6L787.2 800.6L785.2 799.6L783.2 798.6L781.3 797.5L779.3 796.5L777.3 795.4L775.4 794.4L773.4 793.4L771.5 792.3L769.5 791.2L767.5 790.2L765.6 789.1L763.6 788.0L761.6 787.0L759.7 785.9L757.7 784.8L755.8 783.7L753.8 782.6L751.8 781.5L749.9 780.4L747.9 779.3L745.9 778.2L744.0 777.1L742.0 776.0L740.1 774.9L738.1 773.7L736.1 772.6L734.2 771.5L732.2 770.3L730.2 769.2L728.3 768.0L726.3 766.9L724.4 765.7L722.4 764.6L720.4 763.4L718.5 762.2L716.5 761.1L714.5 759.9L712.6 758.7L710.6 757.5L708.7 756.3L706.7 755.1L704.7 753.9L702.8 752.7L700.8 751.5L698.8 750.2L696.9 749.0L694.9 747.8L693.0 746.5L691.0 745.3L689.0 744.0L687.1 742.8L685.1 741.5L683.1 740.3L681.2 739.0L679.2 737.7L677.3 736.4L675.3 735.1L673.3 733.9L671.4 732.6L669.4 731.3L667.4 729.9L665.5 728.6L663.5 727.3L661.5 726.0L659.6 724.7L657.6 723.3L655.7 722.0L653.7 720.6L651.7 719.3L649.8 717.9L647.8 716.5L645.8 715.2L643.9 713.8L641.9 712.4L640.0 711.0L638.0 709.6L636.0 708.2L634.1 706.8L632.1 705.4L630.1 704.0L628.2 702.5L626.2 701.1L624.3 699.6L622.3 698.2L620.3 696.7L618.4 695.3L616.4 693.8L614.4 692.3L612.5 690.8L610.5 689.4L608.6 687.9L606.6 686.4L604.6 684.8L602.7 683.3L600.7 681.8L598.7 680.3L596.8 678.7L594.8 677.2L592.9 675.6L590.9 674.1L588.9 672.5L587.0 670.9L585.0 669.3L583.0 667.8L581.1 666.2L579.1 664.5L577.2 662.9L575.2 661.3L573.2 659.7L571.3 658.0L569.3 656.4L567.3 654.7L565.4 653.1L563.4 651.4L561.5 649.7L559.5 648.0L557.5 646.4L555.6 644.6L553.6 642.9L551.6 641.2L549.7 639.5L547.7 637.8L545.8 636.0L543.8 634.3L541.8 632.5L539.9 630.7L537.9 628.9L535.9 627.1L534.0 625.3L532.0 623.5L530.1 621.7L528.1 619.9L526.1 618.1L524.2 616.2L522.2 614.4L520.2 612.5L518.3 610.6L516.3 608.7L514.3 606.8L512.4 604.9L510.4 603.0L508.5 601.1L506.5 599.2L504.5 597.2L502.6 595.3L500.6 593.3L498.6 591.3L496.7 589.3L494.7 587.3L492.8 585.3L490.8 583.3L488.8 581.3L486.9 579.2L484.9 577.2L482.9 575.1L481.0 573.0L479.0 571.0L477.1 568.9L475.1 566.8L473.1 564.6L471.2 562.5L469.2 560.4L467.2 558.2L465.3 556.0L463.3 553.9L461.4 551.7L459.4 549.5L457.4 547.2L455.5 545.0L453.5 542.8L451.5 540.5L449.6 538.2L447.6 536.0L445.7 533.7L443.7 531.4L441.7 529.0L439.8 526.7L437.8 524.4L435.8 522.0L433.9 519.6L431.9 517.2L430.0 514.8L428.0 512.4L426.0 510.0L424.1 507.5L422.1 505.1L420.1 502.6L418.2 500.1L416.2 497.6L414.3 495.1L412.3 492.6L410.3 490.0L408.4 487.4L406.4 484.9L404.4 482.3L402.5 479.7L400.5 477.0L398.6 474.4L396.6 471.7L394.6 469.0L392.7 466.3L390.7 463.6L388.7 460.9L386.8 458.2L384.8 455.4L382.8 452.6L380.9 449.8L378.9 447.0L377.0 444.2L375.0 441.3L373.0 438.4L371.1 435.6L369.1 432.6L367.1 429.7L365.2 426.8L363.2 423.8L361.3 420.8L359.3 417.8L357.3 414.8L355.4 411.8L353.4 408.7L351.4 405.6L349.5 402.5L347.5 399.4L345.6 396.2L343.6 393.1L341.6 389.9L339.7 386.7L337.7 383.4L335.7 380.2L333.8 376.9L331.8 373.6L329.9 370.3L327.9 366.9L325.9 363.6L324.0 360.2L322.0 356.8L320.0 353.3L318.1 349.9L316.1 346.4L314.2 342.9L312.2 339.3L310.2 335.8L308.3 332.2L306.3 328.5L304.3 324.9L302.4 321.2L300.4 317.5L298.5 313.8L296.5 310.1L294.5 306.3L292.6 302.5L290.6 298.7L288.6 294.8L286.7 290.9L284.7 287.0L282.8 283.0L280.8 279.1L278.8 275.0L276.9 271.0L274.9 266.9L272.9 262.8L271.0 258.7L269.0 254.5L267.1 250.3L265.1 246.1L263.1 241.8L261.2 237.5L259.2 233.2L257.2 228.8L255.3 224.4L253.3 220.0L251.4 215.5L249.4 211.0L247.4 206.5L245.5 201.9L243.5 197.3L241.5 192.6L239.6 187.9L237.6 183.2L235.6 178.4L233.7 173.6L231.7 168.8L229.8 163.9L227.8 159.0L225.8 154.0L223.9 149.0L221.9 143.9L219.9 138.8L218.0 133.6L216.0 128.5L214.1 123.2L212.1 117.9L210.1 112.6L208.2 107.2L206.2 101.8L204.2 96.3Z" fill="none" stroke="#000" stroke-width="1.0" stroke-opacity="0.18"/>
<line x1="557" y1="622.5" x2="863" y2="622.5" stroke="#fff" stroke-width="1.0" stroke-opacity="0.33"/>
<line x1="152.96" y1="45.70" x2="152.96" y2="940.35" stroke="#777" stroke-width="1.90"/>
<line x1="152.16" y1="939.65" x2="1037.34" y2="939.65" stroke="#3a3a3a" stroke-width="1.50"/>
<line x1="152.96" y1="939.65" x2="152.96" y2="930.15" stroke="#3a3a3a" stroke-width="1.50"/>
<line x1="152.96" y1="939.65" x2="160.96" y2="939.65" stroke="#555" stroke-width="1.20"/>
<line x1="300.12" y1="939.65" x2="300.12" y2="930.15" stroke="#3a3a3a" stroke-width="1.50"/>
<line x1="152.96" y1="791.60" x2="160.96" y2="791.60" stroke="#555" stroke-width="1.20"/>
<line x1="447.40" y1="939.65" x2="447.40" y2="930.15" stroke="#3a3a3a" stroke-width="1.50"/>
<line x1="152.96" y1="642.44" x2="160.96" y2="642.44" stroke="#555" stroke-width="1.20"/>
<line x1="594.54" y1="939.65" x2="594.54" y2="930.15" stroke="#3a3a3a" stroke-width="1.50"/>
<line x1="152.96" y1="493.06" x2="160.96" y2="493.06" stroke="#555" stroke-width="1.20"/>
<line x1="741.60" y1="939.65" x2="741.60" y2="930.15" stroke="#3a3a3a" stroke-width="1.50"/>
<line x1="152.96" y1="344.64" x2="160.96" y2="344.64" stroke="#555" stroke-width="1.20"/>
<line x1="888.47" y1="939.65" x2="888.47" y2="930.15" stroke="#3a3a3a" stroke-width="1.50"/>
<line x1="152.96" y1="195.73" x2="160.96" y2="195.73" stroke="#555" stroke-width="1.20"/>
<line x1="1036.54" y1="939.65" x2="1036.54" y2="930.15" stroke="#3a3a3a" stroke-width="1.50"/>
<line x1="152.96" y1="46.50" x2="160.96" y2="46.50" stroke="#555" stroke-width="1.20"/>
<text transform="translate(56.29 958.65) scale(0.8370 1.0000)" font-size="62.20" fill="#000" stroke="#000" stroke-width="0.70" stroke-linejoin="round">-0.6</text>
<text transform="translate(98.29 997.10) scale(0.8370 1.0000)" font-size="62.20" fill="#000" stroke="#000" stroke-width="0.70" stroke-linejoin="round">-0.6</text>
<text transform="translate(55.52 810.60) scale(0.8370 1.0000)" font-size="62.20" fill="#000" stroke="#000" stroke-width="0.70" stroke-linejoin="round">-0.4</text>
<text transform="translate(245.07 997.10) scale(0.8370 1.0000)" font-size="62.20" fill="#000" stroke="#000" stroke-width="0.70" stroke-linejoin="round">-0.4</text>
<text transform="translate(56.62 661.44) scale(0.8370 1.0000)" font-size="62.20" fill="#000" stroke="#000" stroke-width="0.70" stroke-linejoin="round">-0.2</text>
<text transform="translate(392.90 997.10) scale(0.8370 1.0000)" font-size="62.20" fill="#000" stroke="#000" stroke-width="0.70" stroke-linejoin="round">-0.2</text>
<text transform="translate(116.79 512.06) scale(0.8370 1.0000)" font-size="62.20" fill="#000" stroke="#000" stroke-width="0.70" stroke-linejoin="round">0</text>
<text transform="translate(580.06 997.10) scale(0.8370 1.0000)" font-size="62.20" fill="#000" stroke="#000" stroke-width="0.70" stroke-linejoin="round">0</text>
<text transform="translate(73.95 363.64) scale(0.8370 1.0000)" font-size="62.20" fill="#000" stroke="#000" stroke-width="0.70" stroke-linejoin="round">0.2</text>
<text transform="translate(705.71 997.10) scale(0.8370 1.0000)" font-size="62.20" fill="#000" stroke="#000" stroke-width="0.70" stroke-linejoin="round">0.2</text>
<text transform="translate(72.86 214.73) scale(0.8370 1.0000)" font-size="62.20" fill="#000" stroke="#000" stroke-width="0.70" stroke-linejoin="round">0.4</text>
<text transform="translate(852.03 997.10) scale(0.8370 1.0000)" font-size="62.20" fill="#000" stroke="#000" stroke-width="0.70" stroke-linejoin="round">0.4</text>
<text transform="translate(73.62 65.50) scale(0.8370 1.0000)" font-size="62.20" fill="#000" stroke="#000" stroke-width="0.70" stroke-linejoin="round">0.6</text>
<text transform="translate(1000.48 997.10) scale(0.8370 1.0000)" font-size="62.20" fill="#000" stroke="#000" stroke-width="0.70" stroke-linejoin="round">0.6</text>
<text transform="translate(560.64 1054.80) scale(0.8500 1.0000)" font-size="62.00" fill="#000" stroke="#000" stroke-width="0.70" stroke-linejoin="round">Cx</text>
<text transform="translate(68.30 499.20) rotate(-90) scale(0.9850 0.8800)" font-size="61.00" text-anchor="start" x="-39.26" stroke="#000" stroke-width="0.70" stroke-linejoin="round">Cp</text>
<text transform="translate(-2.83 88.00)" font-size="53.70" fill="#000">(a)</text>
<rect x="860.50" y="194.80" width="34.00" height="298.90" fill="#fff"/>
<rect x="861.00" y="488.55" width="28.00" height="5.25" fill="#00008f"/>
<rect x="861.00" y="483.89" width="28.00" height="5.25" fill="#00009f"/>
<rect x="861.00" y="479.24" width="28.00" height="5.25" fill="#0000af"/>
<rect x="861.00" y="474.58" width="28.00" height="5.25" fill="#0000bf"/>
<rect x="861.00" y="469.93" width="28.00" height="5.25" fill="#0000cf"/>
<rect x="861.00" y="465.27" width="28.00" height="5.25" fill="#0000df"/>
<rect x="861.00" y="460.62" width="28.00" height="5.25" fill="#0000ef"/>
<rect x="861.00" y="455.96" width="28.00" height="5.25" fill="#0000ff"/>
<rect x="861.00" y="451.31" width="28.00" height="5.25" fill="#0010ff"/>
<rect x="861.00" y="446.65" width="28.00" height="5.25" fill="#0020ff"/>
<rect x="861.00" y="442.00" width="28.00" height="5.25" fill="#0030ff"/>
<rect x="861.00" y="437.34" width="28.00" height="5.25" fill="#0040ff"/>
<rect x="861.00" y="432.69" width="28.00" height="5.25" fill="#0050ff"/>
<rect x="861.00" y="428.03" width="28.00" height="5.25" fill="#0060ff"/>
<rect x="861.00" y="423.38" width="28.00" height="5.25" fill="#0070ff"/>
<rect x="861.00" y="418.73" width="28.00" height="5.25" fill="#0080ff"/>
<rect x="861.00" y="414.07" width="28.00" height="5.25" fill="#008fff"/>
<rect x="861.00" y="409.42" width="28.00" height="5.25" fill="#009fff"/>
<rect x="861.00" y="404.76" width="28.00" height="5.25" fill="#00afff"/>
<rect x="861.00" y="400.11" width="28.00" height="5.25" fill="#00bfff"/>
<rect x="861.00" y="395.45" width="28.00" height="5.25" fill="#00cfff"/>
<rect x="861.00" y="390.80" width="28.00" height="5.25" fill="#00dfff"/>
<rect x="861.00" y="386.14" width="28.00" height="5.25" fill="#00efff"/>
<rect x="861.00" y="381.49" width="28.00" height="5.25" fill="#00ffff"/>
<rect x="861.00" y="376.83" width="28.00" height="5.25" fill="#10ffef"/>
<rect x="861.00" y="372.18" width="28.00" height="5.25" fill="#20ffdf"/>
<rect x="861.00" y="367.52" width="28.00" height="5.25" fill="#30ffcf"/>
<rect x="861.00" y="362.87" width="28.00" height="5.25" fill="#40ffbf"/>
<rect x="861.00" y="358.21" width="28.00" height="5.25" fill="#50ffaf"/>
<rect x="861.00" y="353.56" width="28.00" height="5.25" fill="#60ff9f"/>
<rect x="861.00" y="348.90" width="28.00" height="5.25" fill="#70ff8f"/>
<rect x="861.00" y="344.25" width="28.00" height="5.25" fill="#80ff80"/>
<rect x="861.00" y="339.60" width="28.00" height="5.25" fill="#8fff70"/>
<rect x="861.00" y="334.94" width="28.00" height="5.25" fill="#9fff60"/>
<rect x="861.00" y="330.29" width="28.00" height="5.25" fill="#afff50"/>
<rect x="861.00" y="325.63" width="28.00" height="5.25" fill="#bfff40"/>
<rect x="861.00" y="320.98" width="28.00" height="5.25" fill="#cfff30"/>
<rect x="861.00" y="316.32" width="28.00" height="5.25" fill="#dfff20"/>
<rect x="861.00" y="311.67" width="28.00" height="5.25" fill="#efff10"/>
<rect x="861.00" y="307.01" width="28.00" height="5.25" fill="#ffff00"/>
<rect x="861.00" y="302.36" width="28.00" height="5.25" fill="#ffef00"/>
<rect x="861.00" y="297.70" width="28.00" height="5.25" fill="#ffdf00"/>
<rect x="861.00" y="293.05" width="28.00" height="5.25" fill="#ffcf00"/>
<rect x="861.00" y="288.39" width="28.00" height="5.25" fill="#ffbf00"/>
<rect x="861.00" y="283.74" width="28.00" height="5.25" fill="#ffaf00"/>
<rect x="861.00" y="279.08" width="28.00" height="5.25" fill="#ff9f00"/>
<rect x="861.00" y="274.43" width="28.00" height="5.25" fill="#ff8f00"/>
<rect x="861.00" y="269.77" width="28.00" height="5.25" fill="#ff8000"/>
<rect x="861.00" y="265.12" width="28.00" height="5.25" fill="#ff7000"/>
<rect x="861.00" y="260.47" width="28.00" height="5.25" fill="#ff6000"/>
<rect x="861.00" y="255.81" width="28.00" height="5.25" fill="#ff5000"/>
<rect x="861.00" y="251.16" width="28.00" height="5.25" fill="#ff4000"/>
<rect x="861.00" y="246.50" width="28.00" height="5.25" fill="#ff3000"/>
<rect x="861.00" y="241.85" width="28.00" height="5.25" fill="#ff2000"/>
<rect x="861.00" y="237.19" width="28.00" height="5.25" fill="#ff1000"/>
<rect x="861.00" y="232.54" width="28.00" height="5.25" fill="#ff0000"/>
<rect x="861.00" y="227.88" width="28.00" height="5.25" fill="#ef0000"/>
<rect x="861.00" y="223.23" width="28.00" height="5.25" fill="#df0000"/>
<rect x="861.00" y="218.57" width="28.00" height="5.25" fill="#cf0000"/>
<rect x="861.00" y="213.92" width="28.00" height="5.25" fill="#bf0000"/>
<rect x="861.00" y="209.26" width="28.00" height="5.25" fill="#af0000"/>
<rect x="861.00" y="204.61" width="28.00" height="5.25" fill="#9f0000"/>
<rect x="861.00" y="199.95" width="28.00" height="5.25" fill="#8f0000"/>
<rect x="861.00" y="195.30" width="28.00" height="5.25" fill="#800000"/>
<rect x="861.00" y="195.30" width="28.00" height="297.90" fill="none" stroke="#444" stroke-width="0.8"/>
<text transform="translate(894.09 223.40) scale(0.8460 1.0000)" font-size="59.80" fill="#000" stroke="#000" stroke-width="1.10" stroke-linejoin="round">0.4</text>
<line x1="861.00" y1="251.80" x2="863.50" y2="251.80" stroke="#222" stroke-width="1"/>
<line x1="889.00" y1="251.80" x2="886.50" y2="251.80" stroke="#222" stroke-width="1"/>
<text transform="translate(894.09 272.00) scale(0.8460 1.0000)" font-size="59.80" fill="#000" stroke="#000" stroke-width="1.10" stroke-linejoin="round">0.35</text>
<line x1="861.00" y1="300.40" x2="863.50" y2="300.40" stroke="#222" stroke-width="1"/>
<line x1="889.00" y1="300.40" x2="886.50" y2="300.40" stroke="#222" stroke-width="1"/>
<text transform="translate(894.09 320.60) scale(0.8460 1.0000)" font-size="59.80" fill="#000" stroke="#000" stroke-width="1.10" stroke-linejoin="round">0.3</text>
<line x1="861.00" y1="349.00" x2="863.50" y2="349.00" stroke="#222" stroke-width="1"/>
<line x1="889.00" y1="349.00" x2="886.50" y2="349.00" stroke="#222" stroke-width="1"/>
<text transform="translate(894.09 369.20) scale(0.8460 1.0000)" font-size="59.80" fill="#000" stroke="#000" stroke-width="1.10" stroke-linejoin="round">0.25</text>
<line x1="861.00" y1="397.60" x2="863.50" y2="397.60" stroke="#222" stroke-width="1"/>
<line x1="889.00" y1="397.60" x2="886.50" y2="397.60" stroke="#222" stroke-width="1"/>
<text transform="translate(894.09 417.80) scale(0.8460 1.0000)" font-size="59.80" fill="#000" stroke="#000" stroke-width="1.10" stroke-linejoin="round">0.2</text>
<line x1="861.00" y1="446.20" x2="863.50" y2="446.20" stroke="#222" stroke-width="1"/>
<line x1="889.00" y1="446.20" x2="886.50" y2="446.20" stroke="#222" stroke-width="1"/>
<text transform="translate(894.09 466.40) scale(0.8460 1.0000)" font-size="59.80" fill="#000" stroke="#000" stroke-width="1.10" stroke-linejoin="round">0.15</text>
<path d="M1351.82 454.20v-8.20M1351.82 15.30v8.20M1488.97 454.20v-8.20M1488.97 15.30v8.20M1626.13 454.20v-8.20M1626.13 15.30v8.20M1763.29 454.20v-8.20M1763.29 15.30v8.20M1900.44 454.20v-8.20M1900.44 15.30v8.20M1214.66 344.48h8.20M2037.60 344.48h-8.20M1214.66 234.75h8.20M2037.60 234.75h-8.20M1214.66 125.02h8.20M2037.60 125.02h-8.20" fill="none" stroke="#7a7a7a" stroke-width="1.1"/>
<rect x="1214.66" y="15.30" width="822.94" height="438.90" fill="none" stroke="#7a7a7a" stroke-width="1.1"/>
<text transform="translate(1175.67 485.35) scale(1.0000 1.0650)" font-size="30.30" fill="#000" stroke="#000" stroke-width="0.70" stroke-linejoin="round">−0.6</text>
<text transform="translate(1312.61 485.35) scale(1.0000 1.0650)" font-size="30.30" fill="#000" stroke="#000" stroke-width="0.70" stroke-linejoin="round">−0.4</text>
<text transform="translate(1450.08 485.35) scale(1.0000 1.0650)" font-size="30.30" fill="#000" stroke="#000" stroke-width="0.70" stroke-linejoin="round">−0.2</text>
<text transform="translate(1617.70 485.35) scale(1.0000 1.0650)" font-size="30.30" fill="#000" stroke="#000" stroke-width="0.70" stroke-linejoin="round">0</text>
<text transform="translate(1742.40 485.35) scale(1.0000 1.0650)" font-size="30.30" fill="#000" stroke="#000" stroke-width="0.70" stroke-linejoin="round">0.2</text>
<text transform="translate(1879.23 485.35) scale(1.0000 1.0650)" font-size="30.30" fill="#000" stroke="#000" stroke-width="0.70" stroke-linejoin="round">0.4</text>
<text transform="translate(2016.61 485.35) scale(1.0000 1.0650)" font-size="30.30" fill="#000" stroke="#000" stroke-width="0.70" stroke-linejoin="round">0.6</text>
<text transform="translate(1168.67 465.40) scale(1.0000 1.0650)" font-size="30.30" fill="#000" stroke="#000" stroke-width="0.70" stroke-linejoin="round">0.1</text>
<text transform="translate(1168.71 355.68) scale(1.0000 1.0650)" font-size="30.30" fill="#000" stroke="#000" stroke-width="0.70" stroke-linejoin="round">0.2</text>
<text transform="translate(1168.52 245.95) scale(1.0000 1.0650)" font-size="30.30" fill="#000" stroke="#000" stroke-width="0.70" stroke-linejoin="round">0.3</text>
<text transform="translate(1168.08 136.22) scale(1.0000 1.0650)" font-size="30.30" fill="#000" stroke="#000" stroke-width="0.70" stroke-linejoin="round">0.4</text>
<text transform="translate(1168.46 26.50) scale(1.0000 1.0650)" font-size="30.30" fill="#000" stroke="#000" stroke-width="0.70" stroke-linejoin="round">0.5</text>
<text transform="translate(1607.01 512.00) scale(1.0000 1.0650)" font-size="30.30" fill="#000" stroke="#000" stroke-width="0.70" stroke-linejoin="round">Cx</text>
<text transform="translate(1158.00 235.00) rotate(-90) translate(-180.79 0) scale(1.0000 1.0650)" font-size="30.30" fill="#000" stroke="#000" stroke-width="0.70" stroke-linejoin="round">Secret Key Rate (bit/pulse)</text>
<text transform="translate(1105.15 32.00)" font-size="44.30" fill="#000" stroke="#000" stroke-width="1.00" stroke-linejoin="round">(b)</text>
<path d="M1255.90 110.99L1266.20 121.29M1255.90 121.29L1266.20 110.99" stroke="#0000ff" stroke-width="3.0" fill="none"/>
<path d="M1982.51 116.14L1998.31 116.14M1990.41 108.24L1990.41 124.04" stroke="#0000ff" stroke-width="3.0" fill="none"/>
<path d="M1525.70 425.37 L1539.90 417.07 L1539.90 433.67 Z" fill="#0000ff"/>
<path d="M1725.76 425.37 L1711.56 417.07 L1711.56 433.67 Z" fill="#0000ff"/>
<path d="M1618.03 439.61L1633.43 439.61M1625.73 431.91L1625.73 447.31M1620.29 434.16L1631.17 445.05M1620.29 445.05L1631.17 434.16" stroke="#0000ff" stroke-width="2.6" fill="none"/>
<path d="M1534.80 425.37L1537.88 426.34L1540.96 427.26L1544.04 428.15L1547.13 429.01L1550.21 429.83L1553.29 430.62L1556.37 431.37L1559.46 432.10L1562.54 432.78L1565.62 433.44L1568.70 434.06L1571.79 434.64L1574.87 435.20L1577.95 435.72L1581.03 436.20L1584.12 436.66L1587.20 437.08L1590.28 437.47L1593.36 437.82L1596.45 438.15L1599.53 438.44L1602.61 438.70L1605.69 438.92L1608.78 439.12L1611.86 439.28L1614.94 439.41L1618.02 439.51L1621.11 439.57L1624.19 439.60L1627.27 439.60L1630.35 439.57L1633.44 439.51L1636.52 439.41L1639.60 439.28L1642.68 439.12L1645.77 438.92L1648.85 438.70L1651.93 438.44L1655.01 438.15L1658.10 437.82L1661.18 437.47L1664.26 437.08L1667.34 436.66L1670.43 436.20L1673.51 435.72L1676.59 435.20L1679.67 434.64L1682.76 434.06L1685.84 433.44L1688.92 432.78L1692.00 432.10L1695.09 431.37L1698.17 430.62L1701.25 429.83L1704.33 429.01L1707.42 428.15L1710.50 427.26L1713.58 426.34L1716.66 425.37" fill="none" stroke="#000" stroke-width="2.9" stroke-linejoin="round"/>
<path d="M1261.05 116.14L1261.07 116.26L1261.13 116.58L1261.22 117.07L1261.36 117.70L1261.53 118.47L1261.74 119.37L1262.00 120.39L1262.29 121.53L1262.61 122.77L1262.98 124.11L1263.39 125.56L1263.83 127.10L1264.32 128.73L1264.84 130.45L1265.40 132.25L1266.00 134.14L1266.64 136.10L1267.31 138.14L1268.03 140.25L1268.78 142.43L1269.57 144.67L1270.40 146.98L1271.27 149.36L1272.18 151.79L1273.13 154.28L1274.12 156.83L1275.14 159.43L1276.20 162.09L1277.31 164.79L1278.45 167.54L1279.63 170.33L1280.84 173.17L1282.10 176.05L1283.40 178.97L1284.73 181.93L1286.10 184.92L1287.51 187.95L1288.96 191.02L1290.45 194.11L1291.98 197.23L1293.54 200.38L1295.15 203.56L1296.79 206.76L1298.47 209.99L1300.19 213.24L1301.95 216.50L1303.75 219.79L1305.59 223.09L1307.46 226.41L1309.38 229.74L1311.33 233.09L1313.32 236.45L1315.35 239.82L1317.42 243.19L1319.53 246.58L1321.67 249.97L1323.86 253.36L1326.08 256.76L1328.34 260.16L1330.64 263.56L1332.98 266.96L1335.36 270.36L1337.77 273.76L1340.23 277.15L1342.72 280.54L1345.25 283.92L1347.83 287.30L1350.44 290.66L1353.08 294.02L1355.77 297.36L1358.50 300.69L1361.26 304.01L1364.06 307.32L1366.91 310.61L1369.79 313.88L1372.70 317.13L1375.66 320.37L1378.66 323.58L1381.69 326.78L1384.77 329.95L1387.88 333.10L1391.03 336.23L1394.22 339.33L1397.45 342.40L1400.72 345.45L1404.02 348.47L1407.37 351.45L1410.75 354.41L1414.17 357.34L1417.63 360.24L1421.13 363.10L1424.67 365.92L1428.24 368.71L1431.86 371.47L1435.51 374.19L1439.20 376.87L1442.93 379.50L1446.70 382.10L1450.51 384.66L1454.36 387.17L1458.24 389.64L1462.17 392.07L1466.13 394.45L1470.13 396.78L1474.17 399.07L1478.25 401.30L1482.37 403.49L1486.53 405.62L1490.72 407.70L1494.95 409.73L1499.23 411.70L1503.54 413.62L1507.89 415.48L1512.27 417.28L1516.70 419.02L1521.17 420.70L1525.67 422.33L1530.21 423.88L1534.80 425.37" fill="none" stroke="#ff0000" stroke-width="2.9" stroke-linejoin="round"/>
<path d="M1990.41 116.14L1990.39 116.26L1990.33 116.58L1990.24 117.07L1990.10 117.70L1989.93 118.47L1989.72 119.37L1989.46 120.39L1989.17 121.53L1988.85 122.77L1988.48 124.11L1988.07 125.56L1987.63 127.10L1987.14 128.73L1986.62 130.45L1986.06 132.25L1985.46 134.14L1984.82 136.10L1984.15 138.14L1983.43 140.25L1982.68 142.43L1981.89 144.67L1981.06 146.98L1980.19 149.36L1979.28 151.79L1978.33 154.28L1977.34 156.83L1976.32 159.43L1975.26 162.09L1974.15 164.79L1973.01 167.54L1971.83 170.33L1970.62 173.17L1969.36 176.05L1968.06 178.97L1966.73 181.93L1965.36 184.92L1963.95 187.95L1962.50 191.02L1961.01 194.11L1959.48 197.23L1957.92 200.38L1956.31 203.56L1954.67 206.76L1952.99 209.99L1951.27 213.24L1949.51 216.50L1947.71 219.79L1945.87 223.09L1944.00 226.41L1942.08 229.74L1940.13 233.09L1938.14 236.45L1936.11 239.82L1934.04 243.19L1931.93 246.58L1929.79 249.97L1927.60 253.36L1925.38 256.76L1923.12 260.16L1920.82 263.56L1918.48 266.96L1916.10 270.36L1913.69 273.76L1911.23 277.15L1908.74 280.54L1906.21 283.92L1903.63 287.30L1901.02 290.66L1898.38 294.02L1895.69 297.36L1892.96 300.69L1890.20 304.01L1887.40 307.32L1884.55 310.61L1881.67 313.88L1878.76 317.13L1875.80 320.37L1872.80 323.58L1869.77 326.78L1866.69 329.95L1863.58 333.10L1860.43 336.23L1857.24 339.33L1854.01 342.40L1850.74 345.45L1847.44 348.47L1844.09 351.45L1840.71 354.41L1837.29 357.34L1833.83 360.24L1830.33 363.10L1826.79 365.92L1823.22 368.71L1819.60 371.47L1815.95 374.19L1812.26 376.87L1808.53 379.50L1804.76 382.10L1800.95 384.66L1797.10 387.17L1793.22 389.64L1789.29 392.07L1785.33 394.45L1781.33 396.78L1777.29 399.07L1773.21 401.30L1769.09 403.49L1764.93 405.62L1760.74 407.70L1756.51 409.73L1752.23 411.70L1747.92 413.62L1743.57 415.48L1739.19 417.28L1734.76 419.02L1730.29 420.70L1725.79 422.33L1721.25 423.88L1716.66 425.37" fill="none" stroke="#ff0000" stroke-width="2.9" stroke-linejoin="round"/>
<rect x="1546.30" y="44.80" width="181.70" height="255.95" fill="#fff" stroke="#7a7a7a" stroke-width="1.1"/>
<path d="M1560.20 65.00L1575.60 65.00M1567.90 57.30L1567.90 72.70M1562.46 59.56L1573.34 70.44M1562.46 70.44L1573.34 59.56" stroke="#0000ff" stroke-width="3.0" fill="none"/>
<text transform="translate(1586.60 75.50) scale(1.0000 1.0650)" font-size="30.25" fill="#000" stroke="#000" stroke-width="0.70" stroke-linejoin="round">point (1)</text>
<path d="M1558.80 101.20 L1573.00 92.90 L1573.00 109.50 Z" fill="#0000ff"/>
<text transform="translate(1586.60 111.70) scale(1.0000 1.0650)" font-size="30.25" fill="#000" stroke="#000" stroke-width="0.70" stroke-linejoin="round">point (3)</text>
<path d="M1577.00 137.40 L1562.80 129.10 L1562.80 145.70 Z" fill="#0000ff"/>
<text transform="translate(1586.60 147.90) scale(1.0000 1.0650)" font-size="30.25" fill="#000" stroke="#000" stroke-width="0.70" stroke-linejoin="round">point (5)</text>
<path d="M1562.75 168.45L1573.05 178.75M1562.75 178.75L1573.05 168.45" stroke="#0000ff" stroke-width="3.0" fill="none"/>
<text transform="translate(1586.60 184.10) scale(1.0000 1.0650)" font-size="30.25" fill="#000" stroke="#000" stroke-width="0.70" stroke-linejoin="round">point (7)</text>
<path d="M1560.00 209.80L1575.80 209.80M1567.90 201.90L1567.90 217.70" stroke="#0000ff" stroke-width="3.0" fill="none"/>
<text transform="translate(1586.60 220.30) scale(1.0000 1.0650)" font-size="30.25" fill="#000" stroke="#000" stroke-width="0.70" stroke-linejoin="round">point (6)</text>
<line x1="1553.00" y1="246.00" x2="1582.70" y2="246.00" stroke="#ff0000" stroke-width="2.9"/>
<text transform="translate(1586.07 256.50) scale(1.0000 1.0650)" font-size="30.25" fill="#000" stroke="#000" stroke-width="0.70" stroke-linejoin="round">Entangled</text>
<line x1="1553.00" y1="282.20" x2="1582.70" y2="282.20" stroke="#000" stroke-width="2.9"/>
<text transform="translate(1587.18 292.70) scale(1.0000 1.0650)" font-size="30.25" fill="#000" stroke="#000" stroke-width="0.70" stroke-linejoin="round">Separable</text>
<text transform="translate(1557.71 366.96) scale(1.0000 1.0650)" font-size="30.30" fill="#000" stroke="#000" stroke-width="0.70" stroke-linejoin="round">Cx = − Cp</text>
<path d="M1370.58 989.90v-8.20M1370.58 539.80v8.20M1502.57 989.90v-8.20M1502.57 539.80v8.20M1634.55 989.90v-8.20M1634.55 539.80v8.20M1766.53 989.90v-8.20M1766.53 539.80v8.20M1898.52 989.90v-8.20M1898.52 539.80v8.20M1238.60 899.88h8.20M2030.50 899.88h-8.20M1238.60 809.86h8.20M2030.50 809.86h-8.20M1238.60 719.84h8.20M2030.50 719.84h-8.20M1238.60 629.82h8.20M2030.50 629.82h-8.20" fill="none" stroke="#7a7a7a" stroke-width="1.1"/>
<rect x="1238.60" y="539.80" width="791.90" height="450.10" fill="none" stroke="#7a7a7a" stroke-width="1.1"/>
<text transform="translate(1181.65 1021.85) scale(1.0000 1.0650)" font-size="31.00" fill="#000" stroke="#000" stroke-width="0.70" stroke-linejoin="round">−0.015</text>
<text transform="translate(1322.36 1021.85) scale(1.0000 1.0650)" font-size="31.00" fill="#000" stroke="#000" stroke-width="0.70" stroke-linejoin="round">−0.01</text>
<text transform="translate(1445.61 1021.85) scale(1.0000 1.0650)" font-size="31.00" fill="#000" stroke="#000" stroke-width="0.70" stroke-linejoin="round">−0.005</text>
<text transform="translate(1625.93 1021.85) scale(1.0000 1.0650)" font-size="31.00" fill="#000" stroke="#000" stroke-width="0.70" stroke-linejoin="round">0</text>
<text transform="translate(1727.79 1021.85) scale(1.0000 1.0650)" font-size="31.00" fill="#000" stroke="#000" stroke-width="0.70" stroke-linejoin="round">0.005</text>
<text transform="translate(1868.50 1021.85) scale(1.0000 1.0650)" font-size="31.00" fill="#000" stroke="#000" stroke-width="0.70" stroke-linejoin="round">0.01</text>
<text transform="translate(1991.76 1021.85) scale(1.0000 1.0650)" font-size="31.00" fill="#000" stroke="#000" stroke-width="0.70" stroke-linejoin="round">0.015</text>
<text transform="translate(1158.02 1001.10) scale(1.0000 1.0650)" font-size="31.00" fill="#000" stroke="#000" stroke-width="0.70" stroke-linejoin="round">0.358</text>
<text transform="translate(1158.23 911.08) scale(1.0000 1.0650)" font-size="31.00" fill="#000" stroke="#000" stroke-width="0.70" stroke-linejoin="round">0.362</text>
<text transform="translate(1158.04 821.06) scale(1.0000 1.0650)" font-size="31.00" fill="#000" stroke="#000" stroke-width="0.70" stroke-linejoin="round">0.366</text>
<text transform="translate(1175.47 731.04) scale(1.0000 1.0650)" font-size="31.00" fill="#000" stroke="#000" stroke-width="0.70" stroke-linejoin="round">0.37</text>
<text transform="translate(1157.58 641.02) scale(1.0000 1.0650)" font-size="31.00" fill="#000" stroke="#000" stroke-width="0.70" stroke-linejoin="round">0.374</text>
<text transform="translate(1158.02 551.00) scale(1.0000 1.0650)" font-size="31.00" fill="#000" stroke="#000" stroke-width="0.70" stroke-linejoin="round">0.378</text>
<text transform="translate(1614.99 1049.80) scale(1.0000 1.0650)" font-size="31.00" fill="#000" stroke="#000" stroke-width="0.70" stroke-linejoin="round">Cx</text>
<text transform="translate(1146.00 765.00) rotate(-90) translate(-184.96 0) scale(1.0000 1.0650)" font-size="31.00" fill="#000" stroke="#000" stroke-width="0.70" stroke-linejoin="round">Secret Key Rate (bit/pulse)</text>
<text transform="translate(1099.75 553.20)" font-size="44.30" fill="#000" stroke="#000" stroke-width="1.00" stroke-linejoin="round">(c)</text>
<path d="M1285.51 599.26 L1294.01 613.96 L1277.01 613.96 Z" fill="#0000ff"/>
<path d="M1983.59 927.17 L1992.09 912.47 L1975.09 912.47 Z" fill="#0000ff"/>
<path d="M1626.65 933.99L1642.45 933.99M1634.55 926.09L1634.55 941.89M1628.96 928.40L1640.14 939.57M1628.96 939.57L1640.14 928.40" stroke="#0000ff" stroke-width="2.6" fill="none"/>
<path d="M1285.51 609.26L1285.53 609.37L1285.58 609.63L1285.68 610.03L1285.82 610.55L1285.99 611.18L1286.20 611.91L1286.45 612.73L1286.74 613.64L1287.07 614.63L1287.43 615.71L1287.84 616.86L1288.28 618.08L1288.76 619.37L1289.28 620.73L1289.83 622.15L1290.43 623.64L1291.06 625.18L1291.73 626.78L1292.44 628.43L1293.19 630.14L1293.97 631.90L1294.79 633.70L1295.65 635.55L1296.55 637.45L1297.48 639.39L1298.45 641.38L1299.46 643.40L1300.50 645.47L1301.59 647.57L1302.70 649.70L1303.86 651.88L1305.05 654.08L1306.28 656.32L1307.54 658.59L1308.84 660.89L1310.18 663.22L1311.55 665.58L1312.96 667.96L1314.40 670.37L1315.88 672.80L1317.40 675.26L1318.95 677.74L1320.53 680.24L1322.15 682.76L1323.80 685.30L1325.49 687.86L1327.21 690.44L1328.96 693.03L1330.75 695.64L1332.58 698.27L1334.43 700.91L1336.32 703.56L1338.24 706.22L1340.20 708.90L1342.18 711.59L1344.20 714.29L1346.26 716.99L1348.34 719.71L1350.45 722.43L1352.60 725.16L1354.78 727.90L1356.99 730.65L1359.22 733.39L1361.49 736.15L1363.79 738.90L1366.12 741.66L1368.48 744.43L1370.87 747.19L1373.29 749.96L1375.73 752.72L1378.21 755.49L1380.71 758.25L1383.24 761.01L1385.80 763.78L1388.39 766.54L1391.00 769.29L1393.64 772.04L1396.31 774.79L1399.00 777.54L1401.72 780.27L1404.47 783.01L1407.24 785.73L1410.03 788.45L1412.85 791.17L1415.70 793.87L1418.57 796.57L1421.46 799.25L1424.38 801.93L1427.32 804.60L1430.28 807.26L1433.26 809.91L1436.27 812.54L1439.30 815.17L1442.35 817.78L1445.42 820.38L1448.52 822.97L1451.63 825.55L1454.76 828.11L1457.92 830.66L1461.09 833.19L1464.28 835.71L1467.49 838.21L1470.72 840.70L1473.97 843.17L1477.23 845.63L1480.51 848.07L1483.81 850.49L1487.13 852.90L1490.46 855.28L1493.81 857.65L1497.17 860.00L1500.55 862.34L1503.95 864.65L1507.36 866.95L1510.78 869.22L1514.21 871.48L1517.66 873.71L1521.12 875.93L1524.60 878.12L1528.09 880.30L1531.58 882.45L1535.09 884.58L1538.61 886.69L1542.15 888.78L1545.69 890.84L1549.24 892.89L1552.80 894.91L1556.37 896.90L1559.95 898.88L1563.54 900.83L1567.13 902.76L1570.73 904.66L1574.34 906.54L1577.96 908.40L1581.58 910.23L1585.21 912.04L1588.84 913.83L1592.48 915.58L1596.12 917.32L1599.77 919.03L1603.42 920.71L1607.07 922.37L1610.73 924.00L1614.39 925.61L1618.05 927.19L1621.72 928.75L1625.38 930.28L1629.05 931.78L1632.72 933.26L1636.38 934.71L1640.05 936.13L1643.72 937.53L1647.38 938.90L1651.05 940.25L1654.71 941.56L1658.37 942.85L1662.03 944.12L1665.68 945.36L1669.33 946.57L1672.98 947.75L1676.62 948.90L1680.26 950.03L1683.89 951.13L1687.52 952.21L1691.14 953.25L1694.76 954.27L1698.37 955.27L1701.97 956.23L1705.56 957.17L1709.15 958.08L1712.73 958.96L1716.30 959.81L1719.86 960.64L1723.41 961.44L1726.95 962.22L1730.49 962.96L1734.01 963.68L1737.52 964.37L1741.01 965.04L1744.50 965.67L1747.98 966.28L1751.44 966.87L1754.89 967.42L1758.32 967.95L1761.74 968.45L1765.15 968.93L1768.55 969.38L1771.93 969.80L1775.29 970.20L1778.64 970.57L1781.97 970.91L1785.29 971.23L1788.59 971.52L1791.87 971.79L1795.13 972.03L1798.38 972.24L1801.61 972.43L1804.82 972.59L1808.01 972.73L1811.18 972.85L1814.34 972.93L1817.47 973.00L1820.58 973.04L1823.68 973.05L1826.75 973.04L1829.80 973.01L1832.83 972.95L1835.84 972.87L1838.82 972.77L1841.78 972.64L1844.72 972.49L1847.64 972.32L1850.53 972.12L1853.40 971.90L1856.25 971.67L1859.07 971.40L1861.86 971.12L1864.63 970.82L1867.38 970.49L1870.10 970.15L1872.79 969.78L1875.46 969.39L1878.10 968.99L1880.71 968.56L1883.30 968.12L1885.86 967.65L1888.39 967.17L1890.89 966.67L1893.37 966.15L1895.81 965.61L1898.23 965.06L1900.62 964.49L1902.98 963.90L1905.31 963.30L1907.61 962.68L1909.88 962.04L1912.11 961.39L1914.32 960.73L1916.50 960.05L1918.65 959.36L1920.76 958.65L1922.84 957.93L1924.90 957.20L1926.92 956.46L1928.90 955.70L1930.86 954.94L1932.78 954.16L1934.67 953.38L1936.52 952.58L1938.35 951.77L1940.14 950.96L1941.89 950.14L1943.61 949.31L1945.30 948.47L1946.95 947.63L1948.57 946.78L1950.15 945.93L1951.70 945.07L1953.22 944.21L1954.70 943.34L1956.14 942.47L1957.55 941.60L1958.92 940.73L1960.26 939.86L1961.56 938.99L1962.82 938.12L1964.05 937.25L1965.24 936.38L1966.40 935.52L1967.51 934.66L1968.60 933.81L1969.64 932.96L1970.65 932.12L1971.62 931.29L1972.55 930.46L1973.45 929.65L1974.31 928.84L1975.13 928.05L1975.91 927.27L1976.66 926.51L1977.37 925.76L1978.04 925.03L1978.67 924.32L1979.27 923.62L1979.82 922.95L1980.34 922.30L1980.82 921.68L1981.26 921.09L1981.67 920.52L1982.03 919.98L1982.36 919.48L1982.65 919.02L1982.90 918.59L1983.11 918.21L1983.28 917.88L1983.42 917.60L1983.52 917.38L1983.57 917.23L1983.59 917.17" fill="none" stroke="#000" stroke-width="2.9" stroke-linejoin="round"/>
<rect x="1545.70" y="592.10" width="185.30" height="150.80" fill="#fff" stroke="#7a7a7a" stroke-width="1.1"/>
<path d="M1560.00 612.20L1575.80 612.20M1567.90 604.30L1567.90 620.10M1562.31 606.61L1573.49 617.79M1562.31 617.79L1573.49 606.61" stroke="#0000ff" stroke-width="3.0" fill="none"/>
<text transform="translate(1586.56 623.80) scale(1.0000 1.0650)" font-size="30.90" fill="#000" stroke="#000" stroke-width="0.70" stroke-linejoin="round">point (1)</text>
<path d="M1567.90 639.20 L1576.40 653.90 L1559.40 653.90 Z" fill="#0000ff"/>
<text transform="translate(1586.56 660.80) scale(1.0000 1.0650)" font-size="30.90" fill="#000" stroke="#000" stroke-width="0.70" stroke-linejoin="round">point (2)</text>
<path d="M1567.90 696.20 L1576.40 681.50 L1559.40 681.50 Z" fill="#0000ff"/>
<text transform="translate(1586.56 697.80) scale(1.0000 1.0650)" font-size="30.90" fill="#000" stroke="#000" stroke-width="0.70" stroke-linejoin="round">point (4)</text>
<line x1="1553.00" y1="723.20" x2="1582.70" y2="723.20" stroke="#000" stroke-width="2.9"/>
<text transform="translate(1587.15 734.80) scale(1.0000 1.0650)" font-size="30.90" fill="#000" stroke="#000" stroke-width="0.70" stroke-linejoin="round">Separable</text>
<text transform="translate(1573.38 832.30) scale(1.0000 1.0650)" font-size="31.00" fill="#000" stroke="#000" stroke-width="0.70" stroke-linejoin="round">Cx = Cp</text>
</svg>
</body></html>
